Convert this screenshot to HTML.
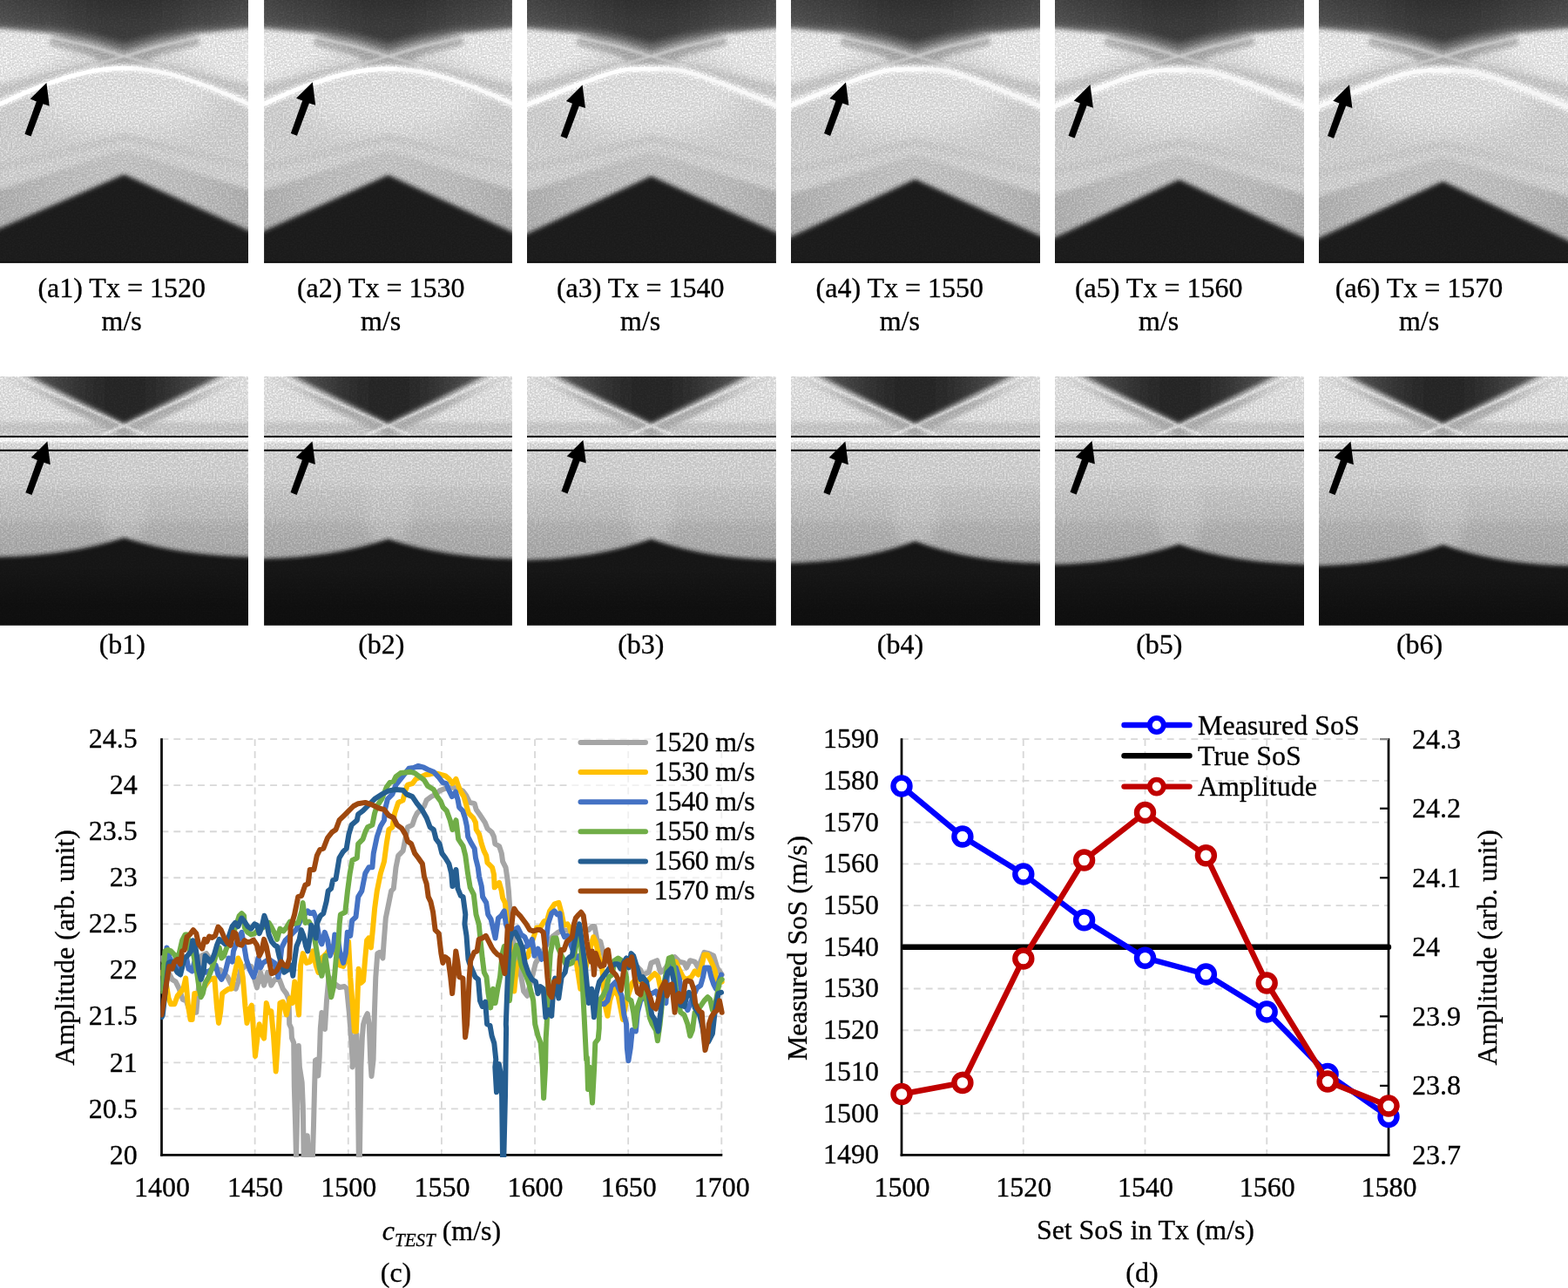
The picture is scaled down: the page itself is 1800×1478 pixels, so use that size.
<!DOCTYPE html>
<html><head><meta charset="utf-8"><title>Figure</title>
<style>html,body{margin:0;padding:0;background:#fff}svg{display:block}text{font-family:'Liberation Serif',serif;font-size:32px;fill:#000;stroke:#000;stroke-width:0.3px}</style>
</head><body>
<svg width="1800" height="1478" viewBox="0 0 1800 1478">
<defs>
<clipPath id="cA0"><rect x="0" y="0" width="285.0" height="301.8"/></clipPath><clipPath id="cB0"><rect x="0" y="0" width="285.0" height="285.8"/></clipPath><clipPath id="cA1"><rect x="0" y="0" width="284.8" height="301.8"/></clipPath><clipPath id="cB1"><rect x="0" y="0" width="284.8" height="285.8"/></clipPath><clipPath id="cA2"><rect x="0" y="0" width="285.9" height="301.8"/></clipPath><clipPath id="cB2"><rect x="0" y="0" width="285.9" height="285.8"/></clipPath><clipPath id="cA3"><rect x="0" y="0" width="286" height="301.8"/></clipPath><clipPath id="cB3"><rect x="0" y="0" width="286" height="285.8"/></clipPath><clipPath id="cA4"><rect x="0" y="0" width="286" height="301.8"/></clipPath><clipPath id="cB4"><rect x="0" y="0" width="286" height="285.8"/></clipPath><clipPath id="cA5"><rect x="0" y="0" width="286" height="301.8"/></clipPath><clipPath id="cB5"><rect x="0" y="0" width="286" height="285.8"/></clipPath>
<filter id="b1" x="-20%" y="-20%" width="140%" height="140%"><feGaussianBlur stdDeviation="0.9"/></filter>
<filter id="b05" x="-20%" y="-20%" width="140%" height="140%"><feGaussianBlur stdDeviation="0.55"/></filter>
<filter id="b07" x="-20%" y="-20%" width="140%" height="140%"><feGaussianBlur stdDeviation="0.7"/></filter>
<filter id="b2" x="-20%" y="-20%" width="140%" height="140%"><feGaussianBlur stdDeviation="2"/></filter>
<filter id="b3" x="-20%" y="-20%" width="140%" height="140%"><feGaussianBlur stdDeviation="2.8"/></filter>
<filter id="b4" x="-20%" y="-20%" width="140%" height="140%"><feGaussianBlur stdDeviation="3.5"/></filter>
<filter id="b8" x="-40%" y="-40%" width="180%" height="180%"><feGaussianBlur stdDeviation="14"/></filter>
<filter id="b5" x="-30%" y="-30%" width="160%" height="160%"><feGaussianBlur stdDeviation="6"/></filter>
<filter id="noise" x="0" y="0" width="100%" height="100%" color-interpolation-filters="sRGB"><feTurbulence type="fractalNoise" baseFrequency="0.55" numOctaves="1" seed="11" result="n"/><feColorMatrix in="n" type="matrix" values="1 0 0 0 0  1 0 0 0 0  1 0 0 0 0  0 0 0 0 1" result="n1"/><feComponentTransfer in="n1" result="n2"><feFuncR type="discrete" tableValues="0.2 0.2 0.2 0.2 0.2 0.2 0.2 0.3 0.42 0.5 0.5 0.62 0.85 1 1 1 1 1 1 1"/><feFuncG type="discrete" tableValues="0.2 0.2 0.2 0.2 0.2 0.2 0.2 0.3 0.42 0.5 0.5 0.62 0.85 1 1 1 1 1 1 1"/><feFuncB type="discrete" tableValues="0.2 0.2 0.2 0.2 0.2 0.2 0.2 0.3 0.42 0.5 0.5 0.62 0.85 1 1 1 1 1 1 1"/></feComponentTransfer><feComposite in="SourceGraphic" in2="n2" operator="arithmetic" k1="0.2" k2="0.9" k3="0" k4="0"/></filter>
<linearGradient id="gChev" x1="0" x2="1" y1="0" y2="0"><stop offset="0" stop-color="#a8a8a8"/><stop offset="0.25" stop-color="#b8b8b8"/><stop offset="0.5" stop-color="#c0c0c0"/><stop offset="0.75" stop-color="#b8b8b8"/><stop offset="1" stop-color="#a8a8a8"/></linearGradient>
<linearGradient id="gTop" x1="0" x2="1" y1="0" y2="0"><stop offset="0" stop-color="#5a5a5a"/><stop offset="0.25" stop-color="#484848"/><stop offset="0.42" stop-color="#3b3b3b"/><stop offset="0.58" stop-color="#3b3b3b"/><stop offset="0.75" stop-color="#484848"/><stop offset="1" stop-color="#5a5a5a"/></linearGradient>
<linearGradient id="gTopV" x1="0" x2="0" y1="0" y2="1"><stop offset="0" stop-color="#000" stop-opacity="0.22"/><stop offset="1" stop-color="#000" stop-opacity="0"/></linearGradient>
<linearGradient id="gTop2" x1="0" x2="1" y1="0" y2="0"><stop offset="0" stop-color="#6c6c6c"/><stop offset="0.12" stop-color="#4a4a4a"/><stop offset="0.3" stop-color="#303030"/><stop offset="0.42" stop-color="#272727"/><stop offset="0.58" stop-color="#272727"/><stop offset="0.7" stop-color="#303030"/><stop offset="0.88" stop-color="#4a4a4a"/><stop offset="1" stop-color="#6c6c6c"/></linearGradient>
<linearGradient id="gGrayV" x1="0" x2="0" y1="0" y2="1"><stop offset="0" stop-color="#c8c8c8" stop-opacity="0.2"/><stop offset="0.5" stop-color="#acacac" stop-opacity="1"/><stop offset="1" stop-color="#a8a8a8" stop-opacity="1"/></linearGradient>
<linearGradient id="gB" x1="0" x2="0" y1="0" y2="1"><stop offset="0" stop-color="#dddddd"/><stop offset="0.18" stop-color="#d8d8d8"/><stop offset="0.3" stop-color="#cfcfcf"/><stop offset="0.43" stop-color="#cacaca"/><stop offset="0.46" stop-color="#c2c2c2"/><stop offset="0.56" stop-color="#b8b8b8"/><stop offset="0.6" stop-color="#adadad"/><stop offset="0.7" stop-color="#a6a6a6"/><stop offset="1" stop-color="#a0a0a0"/></linearGradient>
<linearGradient id="gBot" x1="0" x2="0" y1="0" y2="1"><stop offset="0" stop-color="#000" stop-opacity="0"/><stop offset="0.15" stop-color="#000" stop-opacity="0.3"/><stop offset="1" stop-color="#000" stop-opacity="0.45"/></linearGradient>
</defs>
<rect width="1800" height="1478" fill="#fff"/>
<g transform="translate(0.0,0)" clip-path="url(#cA0)">
<g filter="url(#noise)">
<rect x="-5" y="-5" width="296.0" height="311.8" fill="#cbcbcb"/>
<ellipse cx="142.5" cy="112" rx="105" ry="42" fill="#dbdbdb" filter="url(#b8)"/>
<path fill="#d5d5d5" d="M-8.0,123.3 L-2.0,120.4 L4.0,117.6 L10.0,114.9 L16.0,112.2 L22.0,109.5 L28.0,106.9 L34.0,104.4 L40.0,102.0 L46.0,99.6 L52.0,97.3 L58.0,95.1 L64.0,93.0 L70.0,91.0 L76.0,89.1 L82.0,87.4 L88.0,85.7 L94.0,84.3 L100.0,82.9 L106.0,81.7 L112.0,80.7 L118.0,79.9 L124.0,79.2 L130.0,78.7 L136.0,78.4 L142.0,78.3 L148.0,78.4 L154.0,78.6 L160.0,79.1 L166.0,79.7 L172.0,80.6 L178.0,81.6 L184.0,82.7 L190.0,84.0 L196.0,85.5 L202.0,87.1 L208.0,88.8 L214.0,90.7 L220.0,92.7 L226.0,94.7 L232.0,96.9 L238.0,99.2 L244.0,101.6 L250.0,104.0 L256.0,106.5 L262.0,109.1 L268.0,111.7 L274.0,114.4 L280.0,117.2 L286.0,120.0 L292.0,122.8 L294.0,-5 L-8,-5Z"/>
<g filter="url(#b5)">
<polygon points="-12,30 62,36 84,58 40,82 -12,100" fill="#e2e2e2"/>
<polygon points="298.0,30 224.0,36 202.0,58 246.0,82 298.0,100" fill="#e2e2e2"/>
</g>
<g filter="url(#b2)">
<polygon fill="#c5c5c5" points="-20,191.2 142.5,153.0 306.0,191.2 306.0,200.2 142.5,162.0 -20,200.2"/>
</g>
<g filter="url(#b3)">
<polygon fill="url(#gChev)" points="-20,224.0 142.5,172.0 306.0,224.0 306.0,341.8 -20,341.8"/>
</g>
<g filter="url(#b3)" fill="none" stroke="#c3c3c3" stroke-width="13" stroke-linecap="butt">
<path d="M142.5,67 L296.0,107"/>
<path d="M142.5,67 L-10,107"/>
</g>
<g filter="url(#b3)" fill="none" stroke="#b0b0b0" stroke-width="14" stroke-linecap="butt">
<path d="M58,45 L142.5,67 L172.5,75.5"/>
<path d="M228.0,45 L142.5,67 L112.5,75.5"/>
</g>
<g filter="url(#b3)">
<polygon fill="#a6a6a6" points="62.5,40 222.5,40 164.5,70 120.5,70"/>
</g>
<g filter="url(#b3)">
<polygon fill="#707070" points="-30,-30 316.0,-30 316.0,31.5 286.0,32 222.0,38.5 181.0,47 142.5,58.5 105,47 64,38.5 0,32 -30,31.5"/>
</g>
<g filter="url(#b4)">
<polygon fill="url(#gTop)" points="-30,-30 316.0,-30 316.0,29 286.0,29 222.0,33 181.0,40 142.5,50 105,40 64,33 0,29 -30,29"/>
</g>
<rect x="-5" y="-5" width="296.0" height="36" fill="url(#gTopV)"/>
<g filter="url(#b2)" fill="none"><path d="M-8.0,123.3 L-2.0,120.4 L4.0,117.6 L10.0,114.9 L16.0,112.2 L22.0,109.5 L28.0,106.9 L34.0,104.4 L40.0,102.0 L46.0,99.6 L52.0,97.3 L58.0,95.1 L64.0,93.0 L70.0,91.0 L76.0,89.1 L82.0,87.4 L88.0,85.7 L94.0,84.3 L100.0,82.9 L106.0,81.7 L112.0,80.7 L118.0,79.9 L124.0,79.2 L130.0,78.7 L136.0,78.4 L142.0,78.3 L148.0,78.4 L154.0,78.6 L160.0,79.1 L166.0,79.7 L172.0,80.6 L178.0,81.6 L184.0,82.7 L190.0,84.0 L196.0,85.5 L202.0,87.1 L208.0,88.8 L214.0,90.7 L220.0,92.7 L226.0,94.7 L232.0,96.9 L238.0,99.2 L244.0,101.6 L250.0,104.0 L256.0,106.5 L262.0,109.1 L268.0,111.7 L274.0,114.4 L280.0,117.2 L286.0,120.0 L292.0,122.8" stroke="#f0f0f0" stroke-width="8.0"/></g>
<g filter="url(#b3)">
<polygon fill="#1d1d1d" points="-30,274.8 0,262.0 142.5,200 286.0,265.0 316.0,278.4 316.0,331.8 -30,331.8"/>
</g>
</g>
<g filter="url(#b1)" fill="none" stroke="#dadada" stroke-width="2.6" opacity="0.75">
<path d="M50,41 L105,53.5 L182.5,76"/><path d="M236.0,41 L181.0,53.5 L102.5,76"/>
</g>
<g filter="url(#b05)" fill="none" stroke-linecap="round">
<path d="M-8.0,123.3 L-2.0,120.4 L4.0,117.6 L10.0,114.9 L16.0,112.2 L22.0,109.5 L28.0,106.9 L34.0,104.4 L40.0,102.0 L46.0,99.6 L52.0,97.3 L58.0,95.1 L64.0,93.0 L70.0,91.0 L76.0,89.1 L82.0,87.4 L88.0,85.7 L94.0,84.3 L100.0,82.9 L106.0,81.7 L112.0,80.7 L118.0,79.9 L124.0,79.2 L130.0,78.7 L136.0,78.4 L142.0,78.3 L148.0,78.4 L154.0,78.6" stroke="#ffffff" stroke-width="4.8"/>
<path d="M152.5,78.6 L158.5,79.0 L164.5,79.6 L170.5,80.3 L176.5,81.3 L182.5,82.4 L188.5,83.7 L194.5,85.1 L200.5,86.7 L206.5,88.4 L212.5,90.2 L218.5,92.2 L224.5,94.2 L230.5,96.4 L236.5,98.6 L242.5,101.0 L248.5,103.4 L254.5,105.9 L260.5,108.4 L266.5,111.1 L272.5,113.7 L278.5,116.5 L284.5,119.3 L290.5,122.1" stroke="#fafafa" stroke-width="3.8"/>
</g>
<rect x="0" y="300.2" width="286.0" height="1.6" fill="#0c0c0c"/>
<polygon fill="#000" points="53.4,95.1 56.8,121.7 49.5,119.3 35.5,156.6 28.4,153.8 41.8,116.4 34.7,113.6"/>
</g>
<g transform="translate(303.1,0)" clip-path="url(#cA1)">
<g filter="url(#noise)">
<rect x="-5" y="-5" width="296.0" height="311.8" fill="#cbcbcb"/>
<ellipse cx="142.5" cy="112" rx="105" ry="42" fill="#dbdbdb" filter="url(#b8)"/>
<path fill="#d5d5d5" d="M-8.0,123.0 L-2.0,120.2 L4.0,117.5 L10.0,114.7 L16.0,112.1 L22.0,109.5 L28.0,106.9 L34.0,104.4 L40.0,102.0 L46.0,99.7 L52.0,97.5 L58.0,95.3 L64.0,93.3 L70.0,91.3 L76.0,89.5 L82.0,87.8 L88.0,86.2 L94.0,84.8 L100.0,83.5 L106.0,82.3 L112.0,81.3 L118.0,80.5 L124.0,79.9 L130.0,79.4 L136.0,79.1 L142.0,79.0 L148.0,79.1 L154.0,79.3 L160.0,79.8 L166.0,80.4 L172.0,81.2 L178.0,82.1 L184.0,83.3 L190.0,84.5 L196.0,86.0 L202.0,87.5 L208.0,89.2 L214.0,91.0 L220.0,92.9 L226.0,95.0 L232.0,97.1 L238.0,99.3 L244.0,101.6 L250.0,104.0 L256.0,106.5 L262.0,109.0 L268.0,111.6 L274.0,114.3 L280.0,117.0 L286.0,119.8 L292.0,122.6 L294.0,-5 L-8,-5Z"/>
<g filter="url(#b5)">
<polygon points="-12,30 62,36 84,58 40,82 -12,100" fill="#e2e2e2"/>
<polygon points="298.0,30 224.0,36 202.0,58 246.0,82 298.0,100" fill="#e2e2e2"/>
</g>
<g filter="url(#b2)">
<polygon fill="#c5c5c5" points="-20,191.9 142.5,153.7 306.0,191.9 306.0,200.9 142.5,162.7 -20,200.9"/>
</g>
<g filter="url(#b3)">
<polygon fill="url(#gChev)" points="-20,224.7 142.5,172.7 306.0,224.7 306.0,341.8 -20,341.8"/>
</g>
<g filter="url(#b3)" fill="none" stroke="#c3c3c3" stroke-width="13" stroke-linecap="butt">
<path d="M142.5,67 L296.0,107"/>
<path d="M142.5,67 L-10,107"/>
</g>
<g filter="url(#b3)" fill="none" stroke="#b0b0b0" stroke-width="14" stroke-linecap="butt">
<path d="M58,45 L142.5,67 L172.5,75.5"/>
<path d="M228.0,45 L142.5,67 L112.5,75.5"/>
</g>
<g filter="url(#b3)">
<polygon fill="#a6a6a6" points="62.5,40 222.5,40 164.5,70 120.5,70"/>
</g>
<g filter="url(#b3)">
<polygon fill="#707070" points="-30,-30 316.0,-30 316.0,31.5 286.0,32 222.0,38.5 181.0,47 142.5,58.5 105,47 64,38.5 0,32 -30,31.5"/>
</g>
<g filter="url(#b4)">
<polygon fill="url(#gTop)" points="-30,-30 316.0,-30 316.0,29 286.0,29 222.0,33 181.0,40 142.5,50 105,40 64,33 0,29 -30,29"/>
</g>
<rect x="-5" y="-5" width="296.0" height="36" fill="url(#gTopV)"/>
<g filter="url(#b2)" fill="none"><path d="M-8.0,123.0 L-2.0,120.2 L4.0,117.5 L10.0,114.7 L16.0,112.1 L22.0,109.5 L28.0,106.9 L34.0,104.4 L40.0,102.0 L46.0,99.7 L52.0,97.5 L58.0,95.3 L64.0,93.3 L70.0,91.3 L76.0,89.5 L82.0,87.8 L88.0,86.2 L94.0,84.8 L100.0,83.5 L106.0,82.3 L112.0,81.3 L118.0,80.5 L124.0,79.9 L130.0,79.4 L136.0,79.1 L142.0,79.0 L148.0,79.1 L154.0,79.3 L160.0,79.8 L166.0,80.4 L172.0,81.2 L178.0,82.1 L184.0,83.3 L190.0,84.5 L196.0,86.0 L202.0,87.5 L208.0,89.2 L214.0,91.0 L220.0,92.9 L226.0,95.0 L232.0,97.1 L238.0,99.3 L244.0,101.6 L250.0,104.0 L256.0,106.5 L262.0,109.0 L268.0,111.6 L274.0,114.3 L280.0,117.0 L286.0,119.8 L292.0,122.6" stroke="#f0f0f0" stroke-width="8.2"/></g>
<g filter="url(#b3)">
<polygon fill="#1d1d1d" points="-30,278.3 0,265.0 142.5,200.7 286.0,266.7 316.0,280.3 316.0,331.8 -30,331.8"/>
</g>
</g>
<g filter="url(#b1)" fill="none" stroke="#dadada" stroke-width="2.6" opacity="0.75">
<path d="M50,41 L105,53.5 L182.5,76"/><path d="M236.0,41 L181.0,53.5 L102.5,76"/>
</g>
<g filter="url(#b05)" fill="none" stroke-linecap="round">
<path d="M-8.0,123.0 L-2.0,120.2 L4.0,117.5 L10.0,114.7 L16.0,112.1 L22.0,109.5 L28.0,106.9 L34.0,104.4 L40.0,102.0 L46.0,99.7 L52.0,97.5 L58.0,95.3 L64.0,93.3 L70.0,91.3 L76.0,89.5 L82.0,87.8 L88.0,86.2 L94.0,84.8 L100.0,83.5 L106.0,82.3 L112.0,81.3 L118.0,80.5 L124.0,79.9 L130.0,79.4 L136.0,79.1 L142.0,79.0 L148.0,79.1 L154.0,79.3" stroke="#fefefe" stroke-width="4.8"/>
<path d="M152.5,79.3 L158.5,79.7 L164.5,80.2 L170.5,81.0 L176.5,81.9 L182.5,83.0 L188.5,84.2 L194.5,85.6 L200.5,87.1 L206.5,88.8 L212.5,90.6 L218.5,92.5 L224.5,94.5 L230.5,96.6 L236.5,98.8 L242.5,101.1 L248.5,103.4 L254.5,105.9 L260.5,108.4 L266.5,111.0 L272.5,113.6 L278.5,116.3 L284.5,119.1 L290.5,121.9" stroke="#fafafa" stroke-width="3.8"/>
</g>
<rect x="0" y="300.2" width="286.0" height="1.6" fill="#0c0c0c"/>
<polygon fill="#000" points="55.7,94.2 59.1,120.8 51.8,118.4 37.8,155.7 30.7,152.9 44.1,115.5 37.0,112.7"/>
</g>
<g transform="translate(605.0,0)" clip-path="url(#cA2)">
<g filter="url(#noise)">
<rect x="-5" y="-5" width="296.0" height="311.8" fill="#cbcbcb"/>
<ellipse cx="142.5" cy="112" rx="105" ry="42" fill="#dbdbdb" filter="url(#b8)"/>
<path fill="#d5d5d5" d="M-8.0,123.8 L-2.0,121.3 L4.0,118.9 L10.0,116.4 L16.0,114.0 L22.0,111.6 L28.0,109.1 L34.0,106.7 L40.0,104.4 L46.0,102.0 L52.0,99.6 L58.0,97.3 L64.0,95.0 L70.0,92.8 L76.0,90.6 L82.0,88.5 L88.0,86.5 L94.0,84.6 L100.0,82.9 L106.0,81.4 L112.0,80.3 L118.0,79.5 L124.0,79.2 L130.0,79.2 L136.0,79.2 L142.0,79.2 L148.0,79.2 L154.0,79.2 L160.0,79.2 L166.0,79.4 L172.0,80.1 L178.0,81.2 L184.0,82.6 L190.0,84.3 L196.0,86.2 L202.0,88.2 L208.0,90.3 L214.0,92.4 L220.0,94.7 L226.0,96.9 L232.0,99.3 L238.0,101.6 L244.0,104.0 L250.0,106.3 L256.0,108.7 L262.0,111.2 L268.0,113.6 L274.0,116.0 L280.0,118.5 L286.0,120.9 L292.0,123.4 L294.0,-5 L-8,-5Z"/>
<g filter="url(#b5)">
<polygon points="-12,30 62,36 84,58 40,82 -12,100" fill="#e2e2e2"/>
<polygon points="298.0,30 224.0,36 202.0,58 246.0,82 298.0,100" fill="#e2e2e2"/>
</g>
<g filter="url(#b2)">
<polygon fill="#c5c5c5" points="-20,193.2 142.5,155.0 306.0,193.2 306.0,202.2 142.5,164.0 -20,202.2"/>
</g>
<g filter="url(#b3)">
<polygon fill="url(#gChev)" points="-20,226.0 142.5,174.0 306.0,226.0 306.0,341.8 -20,341.8"/>
</g>
<g filter="url(#b3)" fill="none" stroke="#c3c3c3" stroke-width="13" stroke-linecap="butt">
<path d="M142.5,67 L296.0,107"/>
<path d="M142.5,67 L-10,107"/>
</g>
<g filter="url(#b3)" fill="none" stroke="#b0b0b0" stroke-width="14" stroke-linecap="butt">
<path d="M58,45 L142.5,67 L172.5,75.5"/>
<path d="M228.0,45 L142.5,67 L112.5,75.5"/>
</g>
<g filter="url(#b3)">
<polygon fill="#a6a6a6" points="62.5,40 222.5,40 164.5,70 120.5,70"/>
</g>
<g filter="url(#b3)">
<polygon fill="#707070" points="-30,-30 316.0,-30 316.0,31.5 286.0,32 222.0,38.5 181.0,47 142.5,58.5 105,47 64,38.5 0,32 -30,31.5"/>
</g>
<g filter="url(#b4)">
<polygon fill="url(#gTop)" points="-30,-30 316.0,-30 316.0,29 286.0,29 222.0,33 181.0,40 142.5,50 105,40 64,33 0,29 -30,29"/>
</g>
<rect x="-5" y="-5" width="296.0" height="36" fill="url(#gTopV)"/>
<g filter="url(#b2)" fill="none"><path d="M-8.0,123.8 L-2.0,121.3 L4.0,118.9 L10.0,116.4 L16.0,114.0 L22.0,111.6 L28.0,109.1 L34.0,106.7 L40.0,104.4 L46.0,102.0 L52.0,99.6 L58.0,97.3 L64.0,95.0 L70.0,92.8 L76.0,90.6 L82.0,88.5 L88.0,86.5 L94.0,84.6 L100.0,82.9 L106.0,81.4 L112.0,80.3 L118.0,79.5 L124.0,79.2 L130.0,79.2 L136.0,79.2 L142.0,79.2 L148.0,79.2 L154.0,79.2 L160.0,79.2 L166.0,79.4 L172.0,80.1 L178.0,81.2 L184.0,82.6 L190.0,84.3 L196.0,86.2 L202.0,88.2 L208.0,90.3 L214.0,92.4 L220.0,94.7 L226.0,96.9 L232.0,99.3 L238.0,101.6 L244.0,104.0 L250.0,106.3 L256.0,108.7 L262.0,111.2 L268.0,113.6 L274.0,116.0 L280.0,118.5 L286.0,120.9 L292.0,123.4" stroke="#f0f0f0" stroke-width="8.8"/></g>
<g filter="url(#b3)">
<polygon fill="#1d1d1d" points="-30,282.0 0,268.3 142.5,202 286.0,266.7 316.0,280.0 316.0,331.8 -30,331.8"/>
</g>
</g>
<g filter="url(#b1)" fill="none" stroke="#dadada" stroke-width="2.6" opacity="0.75">
<path d="M50,41 L105,53.5 L182.5,76"/><path d="M236.0,41 L181.0,53.5 L102.5,76"/>
</g>
<g filter="url(#b05)" fill="none" stroke-linecap="round">
<path d="M-8.0,123.8 L-2.0,121.3 L4.0,118.9 L10.0,116.4 L16.0,114.0 L22.0,111.6 L28.0,109.1 L34.0,106.7 L40.0,104.4 L46.0,102.0 L52.0,99.6 L58.0,97.3 L64.0,95.0 L70.0,92.8 L76.0,90.6 L82.0,88.5 L88.0,86.5 L94.0,84.6 L100.0,82.9 L106.0,81.4 L112.0,80.3 L118.0,79.5 L124.0,79.2 L130.0,79.2 L136.0,79.2 L142.0,79.2 L148.0,79.2 L154.0,79.2" stroke="#fdfdfd" stroke-width="4.6"/>
<path d="M152.5,79.2 L158.5,79.2 L164.5,79.3 L170.5,79.9 L176.5,80.9 L182.5,82.3 L188.5,83.9 L194.5,85.7 L200.5,87.7 L206.5,89.7 L212.5,91.9 L218.5,94.1 L224.5,96.4 L230.5,98.7 L236.5,101.0 L242.5,103.4 L248.5,105.7 L254.5,108.1 L260.5,110.6 L266.5,113.0 L272.5,115.4 L278.5,117.8 L284.5,120.3 L290.5,122.7" stroke="#f8f8f8" stroke-width="3.7"/>
</g>
<rect x="0" y="300.2" width="286.0" height="1.6" fill="#0c0c0c"/>
<polygon fill="#000" points="63.6,97.5 67.0,124.1 59.8,121.7 45.8,159.0 38.6,156.2 52.0,118.8 45.0,116.0"/>
</g>
<g transform="translate(908.0,0)" clip-path="url(#cA3)">
<g filter="url(#noise)">
<rect x="-5" y="-5" width="296.0" height="311.8" fill="#cbcbcb"/>
<ellipse cx="142.5" cy="112" rx="105" ry="42" fill="#dbdbdb" filter="url(#b8)"/>
<path fill="#d5d5d5" d="M-8.0,124.3 L-2.0,121.8 L4.0,119.4 L10.0,116.9 L16.0,114.5 L22.0,112.1 L28.0,109.6 L34.0,107.2 L40.0,104.8 L46.0,102.5 L52.0,100.1 L58.0,97.8 L64.0,95.5 L70.0,93.2 L76.0,91.0 L82.0,88.9 L88.0,86.9 L94.0,85.0 L100.0,83.3 L106.0,81.8 L112.0,80.6 L118.0,79.8 L124.0,79.5 L130.0,79.5 L136.0,79.5 L142.0,79.5 L148.0,79.5 L154.0,79.5 L160.0,79.5 L166.0,79.7 L172.0,80.4 L178.0,81.5 L184.0,83.0 L190.0,84.7 L196.0,86.6 L202.0,88.6 L208.0,90.7 L214.0,92.9 L220.0,95.1 L226.0,97.4 L232.0,99.7 L238.0,102.1 L244.0,104.4 L250.0,106.8 L256.0,109.2 L262.0,111.6 L268.0,114.1 L274.0,116.5 L280.0,119.0 L286.0,121.4 L292.0,123.9 L294.0,-5 L-8,-5Z"/>
<g filter="url(#b5)">
<polygon points="-12,30 62,36 84,58 40,82 -12,100" fill="#e2e2e2"/>
<polygon points="298.0,30 224.0,36 202.0,58 246.0,82 298.0,100" fill="#e2e2e2"/>
</g>
<g filter="url(#b2)">
<polygon fill="#c5c5c5" points="-20,196.7 142.5,158.5 306.0,196.7 306.0,205.7 142.5,167.5 -20,205.7"/>
</g>
<g filter="url(#b3)">
<polygon fill="url(#gChev)" points="-20,229.5 142.5,177.5 306.0,229.5 306.0,341.8 -20,341.8"/>
</g>
<g filter="url(#b3)" fill="none" stroke="#c3c3c3" stroke-width="13" stroke-linecap="butt">
<path d="M142.5,67 L296.0,107"/>
<path d="M142.5,67 L-10,107"/>
</g>
<g filter="url(#b3)" fill="none" stroke="#b0b0b0" stroke-width="14" stroke-linecap="butt">
<path d="M58,45 L142.5,67 L172.5,75.5"/>
<path d="M228.0,45 L142.5,67 L112.5,75.5"/>
</g>
<g filter="url(#b3)">
<polygon fill="#a6a6a6" points="62.5,40 222.5,40 164.5,70 120.5,70"/>
</g>
<g filter="url(#b3)">
<polygon fill="#707070" points="-30,-30 316.0,-30 316.0,31.5 286.0,32 222.0,38.5 181.0,47 142.5,58.5 105,47 64,38.5 0,32 -30,31.5"/>
</g>
<g filter="url(#b4)">
<polygon fill="url(#gTop)" points="-30,-30 316.0,-30 316.0,29 286.0,29 222.0,33 181.0,40 142.5,50 105,40 64,33 0,29 -30,29"/>
</g>
<rect x="-5" y="-5" width="296.0" height="36" fill="url(#gTopV)"/>
<g filter="url(#b2)" fill="none"><path d="M-8.0,124.3 L-2.0,121.8 L4.0,119.4 L10.0,116.9 L16.0,114.5 L22.0,112.1 L28.0,109.6 L34.0,107.2 L40.0,104.8 L46.0,102.5 L52.0,100.1 L58.0,97.8 L64.0,95.5 L70.0,93.2 L76.0,91.0 L82.0,88.9 L88.0,86.9 L94.0,85.0 L100.0,83.3 L106.0,81.8 L112.0,80.6 L118.0,79.8 L124.0,79.5 L130.0,79.5 L136.0,79.5 L142.0,79.5 L148.0,79.5 L154.0,79.5 L160.0,79.5 L166.0,79.7 L172.0,80.4 L178.0,81.5 L184.0,83.0 L190.0,84.7 L196.0,86.6 L202.0,88.6 L208.0,90.7 L214.0,92.9 L220.0,95.1 L226.0,97.4 L232.0,99.7 L238.0,102.1 L244.0,104.4 L250.0,106.8 L256.0,109.2 L262.0,111.6 L268.0,114.1 L274.0,116.5 L280.0,119.0 L286.0,121.4 L292.0,123.9" stroke="#f0f0f0" stroke-width="9.2"/></g>
<g filter="url(#b3)">
<polygon fill="#1d1d1d" points="-30,285.4 0,271.7 142.5,205.5 286.0,270.7 316.0,284.1 316.0,331.8 -30,331.8"/>
</g>
</g>
<g filter="url(#b1)" fill="none" stroke="#dadada" stroke-width="2.6" opacity="0.75">
<path d="M50,41 L105,53.5 L182.5,76"/><path d="M236.0,41 L181.0,53.5 L102.5,76"/>
</g>
<g filter="url(#b05)" fill="none" stroke-linecap="round">
<path d="M-8.0,124.3 L-2.0,121.8 L4.0,119.4 L10.0,116.9 L16.0,114.5 L22.0,112.1 L28.0,109.6 L34.0,107.2 L40.0,104.8 L46.0,102.5 L52.0,100.1 L58.0,97.8 L64.0,95.5 L70.0,93.2 L76.0,91.0 L82.0,88.9 L88.0,86.9 L94.0,85.0 L100.0,83.3 L106.0,81.8 L112.0,80.6 L118.0,79.8 L124.0,79.5 L130.0,79.5 L136.0,79.5 L142.0,79.5 L148.0,79.5 L154.0,79.5" stroke="#fcfcfc" stroke-width="4.5"/>
<path d="M152.5,79.5 L158.5,79.5 L164.5,79.6 L170.5,80.2 L176.5,81.2 L182.5,82.6 L188.5,84.2 L194.5,86.1 L200.5,88.1 L206.5,90.2 L212.5,92.3 L218.5,94.5 L224.5,96.8 L230.5,99.1 L236.5,101.5 L242.5,103.8 L248.5,106.2 L254.5,108.6 L260.5,111.0 L266.5,113.5 L272.5,115.9 L278.5,118.3 L284.5,120.8 L290.5,123.3" stroke="#f7f7f7" stroke-width="3.6"/>
</g>
<rect x="0" y="300.2" width="286.0" height="1.6" fill="#0c0c0c"/>
<polygon fill="#000" points="63.0,94.4 66.4,121.0 59.1,118.6 45.1,155.9 38.0,153.1 51.4,115.7 44.3,112.9"/>
</g>
<g transform="translate(1211.0,0)" clip-path="url(#cA4)">
<g filter="url(#noise)">
<rect x="-5" y="-5" width="296.0" height="311.8" fill="#cbcbcb"/>
<ellipse cx="142.5" cy="112" rx="105" ry="42" fill="#dbdbdb" filter="url(#b8)"/>
<path fill="#d5d5d5" d="M-8.0,125.4 L-2.0,122.9 L4.0,120.3 L10.0,117.8 L16.0,115.2 L22.0,112.7 L28.0,110.2 L34.0,107.8 L40.0,105.3 L46.0,102.9 L52.0,100.5 L58.0,98.2 L64.0,96.0 L70.0,93.7 L76.0,91.6 L82.0,89.6 L88.0,87.7 L94.0,85.9 L100.0,84.3 L106.0,83.0 L112.0,81.9 L118.0,81.1 L124.0,80.6 L130.0,80.5 L136.0,80.5 L142.0,80.5 L148.0,80.5 L154.0,80.5 L160.0,80.6 L166.0,81.0 L172.0,81.7 L178.0,82.8 L184.0,84.1 L190.0,85.6 L196.0,87.4 L202.0,89.3 L208.0,91.3 L214.0,93.4 L220.0,95.6 L226.0,97.8 L232.0,100.2 L238.0,102.5 L244.0,104.9 L250.0,107.4 L256.0,109.8 L262.0,112.3 L268.0,114.8 L274.0,117.3 L280.0,119.9 L286.0,122.4 L292.0,125.0 L294.0,-5 L-8,-5Z"/>
<g filter="url(#b5)">
<polygon points="-12,30 62,36 84,58 40,82 -12,100" fill="#e2e2e2"/>
<polygon points="298.0,30 224.0,36 202.0,58 246.0,82 298.0,100" fill="#e2e2e2"/>
</g>
<g filter="url(#b2)">
<polygon fill="#c5c5c5" points="-20,197.2 142.5,159.0 306.0,197.2 306.0,206.2 142.5,168.0 -20,206.2"/>
</g>
<g filter="url(#b3)">
<polygon fill="url(#gChev)" points="-20,230.0 142.5,178.0 306.0,230.0 306.0,341.8 -20,341.8"/>
</g>
<g filter="url(#b3)" fill="none" stroke="#c3c3c3" stroke-width="13" stroke-linecap="butt">
<path d="M142.5,67 L296.0,107"/>
<path d="M142.5,67 L-10,107"/>
</g>
<g filter="url(#b3)" fill="none" stroke="#b0b0b0" stroke-width="14" stroke-linecap="butt">
<path d="M58,45 L142.5,67 L172.5,75.5"/>
<path d="M228.0,45 L142.5,67 L112.5,75.5"/>
</g>
<g filter="url(#b3)">
<polygon fill="#a6a6a6" points="62.5,40 222.5,40 164.5,70 120.5,70"/>
</g>
<g filter="url(#b3)">
<polygon fill="#707070" points="-30,-30 316.0,-30 316.0,31.5 286.0,32 222.0,38.5 181.0,47 142.5,58.5 105,47 64,38.5 0,32 -30,31.5"/>
</g>
<g filter="url(#b4)">
<polygon fill="url(#gTop)" points="-30,-30 316.0,-30 316.0,29 286.0,29 222.0,33 181.0,40 142.5,50 105,40 64,33 0,29 -30,29"/>
</g>
<rect x="-5" y="-5" width="296.0" height="36" fill="url(#gTopV)"/>
<g filter="url(#b2)" fill="none"><path d="M-8.0,125.4 L-2.0,122.9 L4.0,120.3 L10.0,117.8 L16.0,115.2 L22.0,112.7 L28.0,110.2 L34.0,107.8 L40.0,105.3 L46.0,102.9 L52.0,100.5 L58.0,98.2 L64.0,96.0 L70.0,93.7 L76.0,91.6 L82.0,89.6 L88.0,87.7 L94.0,85.9 L100.0,84.3 L106.0,83.0 L112.0,81.9 L118.0,81.1 L124.0,80.6 L130.0,80.5 L136.0,80.5 L142.0,80.5 L148.0,80.5 L154.0,80.5 L160.0,80.6 L166.0,81.0 L172.0,81.7 L178.0,82.8 L184.0,84.1 L190.0,85.6 L196.0,87.4 L202.0,89.3 L208.0,91.3 L214.0,93.4 L220.0,95.6 L226.0,97.8 L232.0,100.2 L238.0,102.5 L244.0,104.9 L250.0,107.4 L256.0,109.8 L262.0,112.3 L268.0,114.8 L274.0,117.3 L280.0,119.9 L286.0,122.4 L292.0,125.0" stroke="#f0f0f0" stroke-width="9.6"/></g>
<g filter="url(#b3)">
<polygon fill="#1d1d1d" points="-30,286.5 0,272.7 142.5,206 286.0,273.3 316.0,287.2 316.0,331.8 -30,331.8"/>
</g>
</g>
<g filter="url(#b1)" fill="none" stroke="#dadada" stroke-width="2.6" opacity="0.75">
<path d="M50,41 L105,53.5 L182.5,76"/><path d="M236.0,41 L181.0,53.5 L102.5,76"/>
</g>
<g filter="url(#b05)" fill="none" stroke-linecap="round">
<path d="M-8.0,125.4 L-2.0,122.9 L4.0,120.3 L10.0,117.8 L16.0,115.2 L22.0,112.7 L28.0,110.2 L34.0,107.8 L40.0,105.3 L46.0,102.9 L52.0,100.5 L58.0,98.2 L64.0,96.0 L70.0,93.7 L76.0,91.6 L82.0,89.6 L88.0,87.7 L94.0,85.9 L100.0,84.3 L106.0,83.0 L112.0,81.9 L118.0,81.1 L124.0,80.6 L130.0,80.5 L136.0,80.5 L142.0,80.5 L148.0,80.5 L154.0,80.5" stroke="#fbfbfb" stroke-width="4.4"/>
<path d="M152.5,80.5 L158.5,80.5 L164.5,80.8 L170.5,81.5 L176.5,82.5 L182.5,83.7 L188.5,85.2 L194.5,86.9 L200.5,88.8 L206.5,90.8 L212.5,92.8 L218.5,95.0 L224.5,97.3 L230.5,99.6 L236.5,101.9 L242.5,104.3 L248.5,106.7 L254.5,109.2 L260.5,111.7 L266.5,114.2 L272.5,116.7 L278.5,119.2 L284.5,121.8 L290.5,124.3" stroke="#f6f6f6" stroke-width="3.6"/>
</g>
<rect x="0" y="300.2" width="286.0" height="1.6" fill="#0c0c0c"/>
<polygon fill="#000" points="40.5,97.1 43.9,123.7 36.6,121.3 22.6,158.6 15.5,155.8 28.9,118.4 21.8,115.6"/>
</g>
<g transform="translate(1514.0,0)" clip-path="url(#cA5)">
<g filter="url(#noise)">
<rect x="-5" y="-5" width="296.0" height="311.8" fill="#cbcbcb"/>
<ellipse cx="142.5" cy="112" rx="105" ry="42" fill="#dbdbdb" filter="url(#b8)"/>
<path fill="#d5d5d5" d="M-8.0,125.9 L-2.0,123.4 L4.0,120.8 L10.0,118.3 L16.0,115.7 L22.0,113.2 L28.0,110.7 L34.0,108.3 L40.0,105.8 L46.0,103.4 L52.0,101.0 L58.0,98.7 L64.0,96.5 L70.0,94.2 L76.0,92.1 L82.0,90.1 L88.0,88.2 L94.0,86.4 L100.0,84.8 L106.0,83.5 L112.0,82.4 L118.0,81.6 L124.0,81.1 L130.0,81.0 L136.0,81.0 L142.0,81.0 L148.0,81.0 L154.0,81.0 L160.0,81.1 L166.0,81.5 L172.0,82.2 L178.0,83.3 L184.0,84.6 L190.0,86.1 L196.0,87.9 L202.0,89.8 L208.0,91.8 L214.0,93.9 L220.0,96.1 L226.0,98.3 L232.0,100.7 L238.0,103.0 L244.0,105.4 L250.0,107.9 L256.0,110.3 L262.0,112.8 L268.0,115.3 L274.0,117.8 L280.0,120.4 L286.0,122.9 L292.0,125.5 L294.0,-5 L-8,-5Z"/>
<g filter="url(#b5)">
<polygon points="-12,30 62,36 84,58 40,82 -12,100" fill="#e2e2e2"/>
<polygon points="298.0,30 224.0,36 202.0,58 246.0,82 298.0,100" fill="#e2e2e2"/>
</g>
<g filter="url(#b2)">
<polygon fill="#c5c5c5" points="-20,199.2 142.5,161.0 306.0,199.2 306.0,208.2 142.5,170.0 -20,208.2"/>
</g>
<g filter="url(#b3)">
<polygon fill="url(#gChev)" points="-20,232.0 142.5,180.0 306.0,232.0 306.0,341.8 -20,341.8"/>
</g>
<g filter="url(#b3)" fill="none" stroke="#c3c3c3" stroke-width="13" stroke-linecap="butt">
<path d="M142.5,67 L296.0,107"/>
<path d="M142.5,67 L-10,107"/>
</g>
<g filter="url(#b3)" fill="none" stroke="#b0b0b0" stroke-width="14" stroke-linecap="butt">
<path d="M58,45 L142.5,67 L172.5,75.5"/>
<path d="M228.0,45 L142.5,67 L112.5,75.5"/>
</g>
<g filter="url(#b3)">
<polygon fill="#a6a6a6" points="62.5,40 222.5,40 164.5,70 120.5,70"/>
</g>
<g filter="url(#b3)">
<polygon fill="#707070" points="-30,-30 316.0,-30 316.0,31.5 286.0,32 222.0,38.5 181.0,47 142.5,58.5 105,47 64,38.5 0,32 -30,31.5"/>
</g>
<g filter="url(#b4)">
<polygon fill="url(#gTop)" points="-30,-30 316.0,-30 316.0,29 286.0,29 222.0,33 181.0,40 142.5,50 105,40 64,33 0,29 -30,29"/>
</g>
<rect x="-5" y="-5" width="296.0" height="36" fill="url(#gTopV)"/>
<g filter="url(#b2)" fill="none"><path d="M-8.0,125.9 L-2.0,123.4 L4.0,120.8 L10.0,118.3 L16.0,115.7 L22.0,113.2 L28.0,110.7 L34.0,108.3 L40.0,105.8 L46.0,103.4 L52.0,101.0 L58.0,98.7 L64.0,96.5 L70.0,94.2 L76.0,92.1 L82.0,90.1 L88.0,88.2 L94.0,86.4 L100.0,84.8 L106.0,83.5 L112.0,82.4 L118.0,81.6 L124.0,81.1 L130.0,81.0 L136.0,81.0 L142.0,81.0 L148.0,81.0 L154.0,81.0 L160.0,81.1 L166.0,81.5 L172.0,82.2 L178.0,83.3 L184.0,84.6 L190.0,86.1 L196.0,87.9 L202.0,89.8 L208.0,91.8 L214.0,93.9 L220.0,96.1 L226.0,98.3 L232.0,100.7 L238.0,103.0 L244.0,105.4 L250.0,107.9 L256.0,110.3 L262.0,112.8 L268.0,115.3 L274.0,117.8 L280.0,120.4 L286.0,122.9 L292.0,125.5" stroke="#f0f0f0" stroke-width="10.0"/></g>
<g filter="url(#b3)">
<polygon fill="#1d1d1d" points="-30,286.8 0,273.3 142.5,208 286.0,276.0 316.0,290.0 316.0,331.8 -30,331.8"/>
</g>
</g>
<g filter="url(#b1)" fill="none" stroke="#dadada" stroke-width="2.6" opacity="0.75">
<path d="M50,41 L105,53.5 L182.5,76"/><path d="M236.0,41 L181.0,53.5 L102.5,76"/>
</g>
<g filter="url(#b05)" fill="none" stroke-linecap="round">
<path d="M-8.0,125.9 L-2.0,123.4 L4.0,120.8 L10.0,118.3 L16.0,115.7 L22.0,113.2 L28.0,110.7 L34.0,108.3 L40.0,105.8 L46.0,103.4 L52.0,101.0 L58.0,98.7 L64.0,96.5 L70.0,94.2 L76.0,92.1 L82.0,90.1 L88.0,88.2 L94.0,86.4 L100.0,84.8 L106.0,83.5 L112.0,82.4 L118.0,81.6 L124.0,81.1 L130.0,81.0 L136.0,81.0 L142.0,81.0 L148.0,81.0 L154.0,81.0" stroke="#fafafa" stroke-width="4.3"/>
<path d="M152.5,81.0 L158.5,81.0 L164.5,81.3 L170.5,82.0 L176.5,83.0 L182.5,84.2 L188.5,85.7 L194.5,87.4 L200.5,89.3 L206.5,91.3 L212.5,93.3 L218.5,95.5 L224.5,97.8 L230.5,100.1 L236.5,102.4 L242.5,104.8 L248.5,107.2 L254.5,109.7 L260.5,112.2 L266.5,114.7 L272.5,117.2 L278.5,119.7 L284.5,122.3 L290.5,124.8" stroke="#f5f5f5" stroke-width="3.5"/>
</g>
<rect x="0" y="300.2" width="286.0" height="1.6" fill="#0c0c0c"/>
<polygon fill="#000" points="35.0,97.3 38.4,123.9 31.1,121.5 17.1,158.8 10.0,156.0 23.4,118.6 16.3,115.8"/>
</g>
<g transform="translate(0.0,432)" clip-path="url(#cB0)">
<g filter="url(#noise)">
<rect x="-5" y="-5" width="296.0" height="295.8" fill="url(#gB)"/>
<rect x="-5" y="53" width="296.0" height="14" fill="#c2c2c2" filter="url(#b2)"/>
<g filter="url(#b3)">
<polygon fill="url(#gGrayV)" points="-6,-4 142.5,70 292.0,-4"/>
</g>
<g filter="url(#b1)" fill="none" stroke="#e0e0e0" stroke-width="3">
<path d="M16,-1 L168.5,68"/><path d="M270.0,-1 L116.5,68"/>
</g>
<g filter="url(#b3)">
<polygon fill="url(#gTop2)" points="25,-4 142.5,53.5 261.0,-4"/>
</g>
<rect x="-5" y="69" width="296.0" height="16" fill="#d4d4d4"/>
<rect x="-5" y="70.5" width="296.0" height="5" fill="#f6f6f6" filter="url(#b1)"/>
<ellipse cx="142.5" cy="148.5" rx="26" ry="46" fill="#d0d0d0" opacity="0.32" filter="url(#b5)"/>
<g filter="url(#b2)">
<path fill="#161616" d="M-30,207.5 L0,207.2 Q80.5,205.5 142.5,185.0 Q204.5,205.5 286.0,207.2 L316.0,207.5 L316.0,315.8 L-30,315.8Z"/>
</g>
<rect x="-5" y="218" width="296.0" height="285.8" fill="url(#gBot)"/>
</g>
<rect x="0" y="68.0" width="286.0" height="2.0" fill="#000"/>
<rect x="0" y="83.8" width="286.0" height="2.0" fill="#000"/>
<polygon fill="#000" points="54.4,74.6 57.8,101.2 50.5,98.8 36.5,136.1 29.4,133.3 42.8,95.9 35.7,93.1"/>
</g>
<g transform="translate(303.1,432)" clip-path="url(#cB1)">
<g filter="url(#noise)">
<rect x="-5" y="-5" width="296.0" height="295.8" fill="url(#gB)"/>
<rect x="-5" y="53" width="296.0" height="14" fill="#c2c2c2" filter="url(#b2)"/>
<g filter="url(#b3)">
<polygon fill="url(#gGrayV)" points="-6,-4 142.5,70 292.0,-4"/>
</g>
<g filter="url(#b1)" fill="none" stroke="#e0e0e0" stroke-width="3">
<path d="M16,-1 L168.5,68"/><path d="M270.0,-1 L116.5,68"/>
</g>
<g filter="url(#b3)">
<polygon fill="url(#gTop2)" points="25,-4 142.5,53.5 261.0,-4"/>
</g>
<rect x="-5" y="69" width="296.0" height="16" fill="#d4d4d4"/>
<rect x="-5" y="70.5" width="296.0" height="5" fill="#f6f6f6" filter="url(#b1)"/>
<ellipse cx="142.5" cy="150" rx="26" ry="46" fill="#d0d0d0" opacity="0.32" filter="url(#b5)"/>
<g filter="url(#b2)">
<path fill="#161616" d="M-30,209.5 L0,209.2 Q80.5,207.5 142.5,186.5 Q204.5,207.5 286.0,209.2 L316.0,209.5 L316.0,315.8 L-30,315.8Z"/>
</g>
<rect x="-5" y="220" width="296.0" height="285.8" fill="url(#gBot)"/>
</g>
<rect x="0" y="68.0" width="286.0" height="2.0" fill="#000"/>
<rect x="0" y="83.8" width="286.0" height="2.0" fill="#000"/>
<polygon fill="#000" points="55.4,74.4 58.8,101.0 51.5,98.6 37.5,135.9 30.4,133.1 43.8,95.7 36.7,92.9"/>
</g>
<g transform="translate(605.0,432)" clip-path="url(#cB2)">
<g filter="url(#noise)">
<rect x="-5" y="-5" width="296.0" height="295.8" fill="url(#gB)"/>
<rect x="-5" y="53" width="296.0" height="14" fill="#c2c2c2" filter="url(#b2)"/>
<g filter="url(#b3)">
<polygon fill="url(#gGrayV)" points="-6,-4 142.5,70 292.0,-4"/>
</g>
<g filter="url(#b1)" fill="none" stroke="#e0e0e0" stroke-width="3">
<path d="M16,-1 L168.5,68"/><path d="M270.0,-1 L116.5,68"/>
</g>
<g filter="url(#b3)">
<polygon fill="url(#gTop2)" points="25,-4 142.5,53.5 261.0,-4"/>
</g>
<rect x="-5" y="69" width="296.0" height="16" fill="#d4d4d4"/>
<rect x="-5" y="70.5" width="296.0" height="5" fill="#f6f6f6" filter="url(#b1)"/>
<ellipse cx="142.5" cy="150" rx="26" ry="46" fill="#d0d0d0" opacity="0.32" filter="url(#b5)"/>
<g filter="url(#b2)">
<path fill="#161616" d="M-30,211.0 L0,210.7 Q80.5,209.0 142.5,186.5 Q204.5,209.0 286.0,210.7 L316.0,211.0 L316.0,315.8 L-30,315.8Z"/>
</g>
<rect x="-5" y="221.5" width="296.0" height="285.8" fill="url(#gBot)"/>
</g>
<rect x="0" y="68.0" width="286.0" height="2.0" fill="#000"/>
<rect x="0" y="83.8" width="286.0" height="2.0" fill="#000"/>
<polygon fill="#000" points="64.4,73.0 67.8,99.6 60.5,97.2 46.5,134.5 39.4,131.7 52.8,94.3 45.7,91.5"/>
</g>
<g transform="translate(908.0,432)" clip-path="url(#cB3)">
<g filter="url(#noise)">
<rect x="-5" y="-5" width="296.0" height="295.8" fill="url(#gB)"/>
<rect x="-5" y="53" width="296.0" height="14" fill="#c2c2c2" filter="url(#b2)"/>
<g filter="url(#b3)">
<polygon fill="url(#gGrayV)" points="-6,-4 142.5,70 292.0,-4"/>
</g>
<g filter="url(#b1)" fill="none" stroke="#e0e0e0" stroke-width="3">
<path d="M16,-1 L168.5,68"/><path d="M270.0,-1 L116.5,68"/>
</g>
<g filter="url(#b3)">
<polygon fill="url(#gTop2)" points="25,-4 142.5,53.5 261.0,-4"/>
</g>
<rect x="-5" y="69" width="296.0" height="16" fill="#d4d4d4"/>
<rect x="-5" y="70.5" width="296.0" height="5" fill="#f6f6f6" filter="url(#b1)"/>
<ellipse cx="142.5" cy="152.5" rx="26" ry="46" fill="#d0d0d0" opacity="0.32" filter="url(#b5)"/>
<g filter="url(#b2)">
<path fill="#161616" d="M-30,214.5 L0,214.2 Q80.5,212.5 142.5,189.0 Q204.5,212.5 286.0,214.2 L316.0,214.5 L316.0,315.8 L-30,315.8Z"/>
</g>
<rect x="-5" y="225" width="296.0" height="285.8" fill="url(#gBot)"/>
</g>
<rect x="0" y="68.0" width="286.0" height="2.0" fill="#000"/>
<rect x="0" y="83.8" width="286.0" height="2.0" fill="#000"/>
<polygon fill="#000" points="62.4,74.6 65.8,101.2 58.5,98.8 44.5,136.1 37.4,133.3 50.8,95.9 43.7,93.1"/>
</g>
<g transform="translate(1211.0,432)" clip-path="url(#cB4)">
<g filter="url(#noise)">
<rect x="-5" y="-5" width="296.0" height="295.8" fill="url(#gB)"/>
<rect x="-5" y="53" width="296.0" height="14" fill="#c2c2c2" filter="url(#b2)"/>
<g filter="url(#b3)">
<polygon fill="url(#gGrayV)" points="-6,-4 142.5,70 292.0,-4"/>
</g>
<g filter="url(#b1)" fill="none" stroke="#e0e0e0" stroke-width="3">
<path d="M16,-1 L168.5,68"/><path d="M270.0,-1 L116.5,68"/>
</g>
<g filter="url(#b3)">
<polygon fill="url(#gTop2)" points="25,-4 142.5,53.5 261.0,-4"/>
</g>
<rect x="-5" y="69" width="296.0" height="16" fill="#d4d4d4"/>
<rect x="-5" y="70.5" width="296.0" height="5" fill="#f6f6f6" filter="url(#b1)"/>
<ellipse cx="142.5" cy="156" rx="26" ry="46" fill="#d0d0d0" opacity="0.32" filter="url(#b5)"/>
<g filter="url(#b2)">
<path fill="#161616" d="M-30,216.0 L0,215.7 Q80.5,214.0 142.5,192.5 Q204.5,214.0 286.0,215.7 L316.0,216.0 L316.0,315.8 L-30,315.8Z"/>
</g>
<rect x="-5" y="226.5" width="296.0" height="285.8" fill="url(#gBot)"/>
</g>
<rect x="0" y="68.0" width="286.0" height="2.0" fill="#000"/>
<rect x="0" y="83.8" width="286.0" height="2.0" fill="#000"/>
<polygon fill="#000" points="42.5,74.0 45.9,100.6 38.6,98.2 24.6,135.5 17.5,132.7 30.9,95.3 23.8,92.5"/>
</g>
<g transform="translate(1514.0,432)" clip-path="url(#cB5)">
<g filter="url(#noise)">
<rect x="-5" y="-5" width="296.0" height="295.8" fill="url(#gB)"/>
<rect x="-5" y="53" width="296.0" height="14" fill="#c2c2c2" filter="url(#b2)"/>
<g filter="url(#b3)">
<polygon fill="url(#gGrayV)" points="-6,-4 142.5,70 292.0,-4"/>
</g>
<g filter="url(#b1)" fill="none" stroke="#e0e0e0" stroke-width="3">
<path d="M16,-1 L168.5,68"/><path d="M270.0,-1 L116.5,68"/>
</g>
<g filter="url(#b3)">
<polygon fill="url(#gTop2)" points="25,-4 142.5,53.5 261.0,-4"/>
</g>
<rect x="-5" y="69" width="296.0" height="16" fill="#d4d4d4"/>
<rect x="-5" y="70.5" width="296.0" height="5" fill="#f6f6f6" filter="url(#b1)"/>
<ellipse cx="142.5" cy="156.5" rx="26" ry="46" fill="#d0d0d0" opacity="0.32" filter="url(#b5)"/>
<g filter="url(#b2)">
<path fill="#161616" d="M-30,217.5 L0,217.2 Q80.5,215.5 142.5,193.0 Q204.5,215.5 286.0,217.2 L316.0,217.5 L316.0,315.8 L-30,315.8Z"/>
</g>
<rect x="-5" y="228" width="296.0" height="285.8" fill="url(#gBot)"/>
</g>
<rect x="0" y="68.0" width="286.0" height="2.0" fill="#000"/>
<rect x="0" y="83.8" width="286.0" height="2.0" fill="#000"/>
<polygon fill="#000" points="36.5,74.6 39.9,101.2 32.6,98.8 18.6,136.1 11.5,133.3 24.9,95.9 17.8,93.1"/>
</g>
<text x="139.7" y="341.1" text-anchor="middle">(a1) Tx = 1520</text>
<text x="139.7" y="378.6" text-anchor="middle">m/s</text>
<text x="140.29999999999998" y="750.2" text-anchor="middle">(b1)</text>
<text x="437.2" y="341.1" text-anchor="middle">(a2) Tx = 1530</text>
<text x="437.2" y="378.6" text-anchor="middle">m/s</text>
<text x="437.8" y="750.2" text-anchor="middle">(b2)</text>
<text x="735.2" y="341.1" text-anchor="middle">(a3) Tx = 1540</text>
<text x="735.2" y="378.6" text-anchor="middle">m/s</text>
<text x="735.8000000000001" y="750.2" text-anchor="middle">(b3)</text>
<text x="1032.8" y="341.1" text-anchor="middle">(a4) Tx = 1550</text>
<text x="1032.8" y="378.6" text-anchor="middle">m/s</text>
<text x="1033.3999999999999" y="750.2" text-anchor="middle">(b4)</text>
<text x="1330.2" y="341.1" text-anchor="middle">(a5) Tx = 1560</text>
<text x="1330.2" y="378.6" text-anchor="middle">m/s</text>
<text x="1330.8" y="750.2" text-anchor="middle">(b5)</text>
<text x="1629.0" y="341.1" text-anchor="middle">(a6) Tx = 1570</text>
<text x="1629.0" y="378.6" text-anchor="middle">m/s</text>
<text x="1629.6" y="750.2" text-anchor="middle">(b6)</text>
<clipPath id="cC"><rect x="184.5" y="843.2" width="647.8" height="484.80000000000007"/></clipPath>
<path d="M185.5,848.20H828.3" stroke="#d8d8d8" stroke-width="1.8" stroke-dasharray="7.9 5.95" fill="none"/>
<path d="M185.5,901.22H828.3" stroke="#d8d8d8" stroke-width="1.8" stroke-dasharray="7.9 5.95" fill="none"/>
<path d="M185.5,954.24H828.3" stroke="#d8d8d8" stroke-width="1.8" stroke-dasharray="7.9 5.95" fill="none"/>
<path d="M185.5,1007.27H828.3" stroke="#d8d8d8" stroke-width="1.8" stroke-dasharray="7.9 5.95" fill="none"/>
<path d="M185.5,1060.29H828.3" stroke="#d8d8d8" stroke-width="1.8" stroke-dasharray="7.9 5.95" fill="none"/>
<path d="M185.5,1113.31H828.3" stroke="#d8d8d8" stroke-width="1.8" stroke-dasharray="7.9 5.95" fill="none"/>
<path d="M185.5,1166.33H828.3" stroke="#d8d8d8" stroke-width="1.8" stroke-dasharray="7.9 5.95" fill="none"/>
<path d="M185.5,1219.36H828.3" stroke="#d8d8d8" stroke-width="1.8" stroke-dasharray="7.9 5.95" fill="none"/>
<path d="M185.5,1272.38H828.3" stroke="#d8d8d8" stroke-width="1.8" stroke-dasharray="7.9 5.95" fill="none"/>
<path d="M292.63,848.2V1325.4" stroke="#d8d8d8" stroke-width="1.8" stroke-dasharray="7.9 5.95" fill="none"/>
<path d="M399.77,848.2V1325.4" stroke="#d8d8d8" stroke-width="1.8" stroke-dasharray="7.9 5.95" fill="none"/>
<path d="M506.90,848.2V1325.4" stroke="#d8d8d8" stroke-width="1.8" stroke-dasharray="7.9 5.95" fill="none"/>
<path d="M614.03,848.2V1325.4" stroke="#d8d8d8" stroke-width="1.8" stroke-dasharray="7.9 5.95" fill="none"/>
<path d="M721.17,848.2V1325.4" stroke="#d8d8d8" stroke-width="1.8" stroke-dasharray="7.9 5.95" fill="none"/>
<path d="M828.30,848.2V1325.4" stroke="#d8d8d8" stroke-width="1.8" stroke-dasharray="7.9 5.95" fill="none"/>
<path d="M185.5,847.2V1326.7" stroke="#000" stroke-width="2.7" fill="none"/>
<path d="M184.2,1325.4H829.3" stroke="#000" stroke-width="2.7" fill="none"/>
<g clip-path="url(#cC)" fill="none" stroke-width="6" stroke-linejoin="round" stroke-linecap="round">
<path d="M185.4,1099.5 L189.5,1105.0 L193.5,1115.8 L197.6,1123.9 L201.7,1126.6 L205.7,1134.7 L209.8,1146.9 L213.8,1148.3 L216.5,1156.4 L220.6,1161.8 L225.3,1161.8 L226.7,1145.5 L228.7,1126.6 L231.4,1096.8 L236.8,1094.1 L239.5,1098.2 L245.0,1110.4 L253.1,1113.1 L255.8,1115.8 L261.2,1121.2 L266.6,1132.0 L270.7,1134.7 L273.4,1126.6 L276.1,1113.1 L282.8,1107.7 L288.3,1109.0 L292.3,1123.9 L295.0,1133.4 L299.1,1115.8 L303.1,1130.7 L307.2,1115.8 L311.3,1130.7 L315.3,1123.9 L320.7,1123.9 L324.8,1134.7 L328.8,1140.1 L331.6,1146.9 L332.2,1175.3 L334.4,1180.0 L335.0,1191.1 L337.2,1196.7 L337.8,1246.7 L339.1,1291.1 L340.0,1328.9 L340.9,1291.1 L342.2,1224.4 L342.8,1200.0 L343.9,1224.4 L346.7,1242.2 L347.8,1268.9 L348.7,1328.9 L351.1,1328.9 L352.8,1303.3 L354.4,1328.9 L358.9,1328.9 L360.0,1291.1 L361.1,1246.7 L362.0,1216.7 L364.4,1215.6 L365.3,1234.4 L366.7,1213.3 L367.8,1180.0 L369.4,1162.0 L373.0,1181.0 L375.0,1148.0 L377.5,1121.0 L383.0,1128.0 L389.7,1133.0 L395.4,1132.0 L398.1,1134.7 L400.8,1161.8 L402.9,1188.8 L404.9,1222.7 L404.4,1224.4 L407.8,1191.1 L409.4,1186.7 L410.6,1224.4 L411.8,1328.9 L412.9,1328.9 L414.4,1224.4 L415.8,1191.1 L417.1,1175.3 L419.1,1168.6 L421.8,1163.1 L423.8,1175.3 L425.2,1215.9 L426.5,1234.9 L428.6,1215.9 L429.9,1161.8 L431.3,1121.2 L433.3,1094.1 L436.0,1092.8 L439.4,1099.5 L440.7,1080.6 L442.8,1053.5 L446.4,1035.9 L449.1,1022.4 L451.8,1019.7 L454.5,995.3 L457.2,981.8 L462.6,976.4 L465.3,962.8 L468.0,949.3 L473.4,946.6 L476.1,938.5 L478.8,933.1 L487.0,925.0 L489.7,918.2 L495.1,914.1 L500.5,911.4 L504.6,907.4 L511.3,904.7 L519.4,903.6 L524.9,904.7 L531.1,907.4 L535.2,912.8 L539.2,920.9 L544.7,922.2 L546.7,929.0 L551.4,935.8 L556.8,943.9 L559.5,950.7 L564.3,954.7 L567.0,960.1 L568.3,968.3 L573.1,971.0 L575.8,979.1 L577.1,988.6 L580.5,995.3 L582.5,1008.8 L583.9,1022.4 L585.3,1042.7 L585.9,1060.0 L587.6,1067.1 L591.6,1094.1 L598.4,1121.2 L601.1,1137.4 L605.2,1142.8 L605.4,1141.5 L610.8,1121.2 L614.9,1105.0 L620.3,1096.8 L627.1,1084.7 L633.8,1075.2 L640.6,1069.8 L647.4,1067.1 L654.1,1068.4 L660.9,1067.1 L667.7,1065.7 L675.8,1067.1 L679.8,1063.0 L682.5,1063.0 L685.3,1077.9 L689.3,1080.6 L692.0,1091.4 L694.7,1100.9 L702.8,1105.0 L715.0,1107.7 L729.9,1107.7 L735.3,1113.1 L738.0,1118.5 L744.8,1115.8 L747.5,1105.0 L754.3,1102.2 L758.3,1115.8 L762.4,1113.1 L769.1,1103.6 L774.6,1098.2 L780.0,1103.6 L785.4,1105.0 L788.1,1110.4 L792.2,1102.2 L797.6,1103.6 L801.6,1110.4 L808.4,1092.8 L813.8,1094.1 L819.2,1096.8 L823.3,1110.4 L828.7,1118.5" stroke="#a5a5a5"/>
<path d="M185.4,1115.8 L189.5,1121.2 L193.5,1145.5 L196.2,1152.3 L200.3,1152.3 L203.7,1142.8 L207.1,1138.8 L210.4,1134.7 L213.2,1122.5 L215.9,1153.7 L218.6,1169.9 L220.6,1169.9 L223.3,1140.1 L226.7,1140.1 L231.4,1137.4 L236.8,1129.3 L240.9,1123.9 L246.3,1122.5 L249.0,1156.4 L251.0,1174.0 L253.1,1161.8 L255.1,1140.1 L258.5,1137.4 L262.5,1134.7 L265.9,1134.7 L269.3,1117.1 L273.4,1099.5 L276.1,1105.0 L278.8,1121.2 L281.5,1155.0 L283.5,1174.0 L286.9,1157.7 L288.9,1153.7 L291.0,1182.1 L293.0,1211.9 L295.7,1188.8 L297.7,1175.3 L300.4,1186.1 L303.1,1191.6 L305.8,1151.0 L308.6,1161.8 L311.3,1160.4 L314.0,1188.8 L316.7,1229.4 L319.4,1188.8 L321.4,1151.0 L324.8,1149.6 L328.8,1164.5 L332.9,1145.5 L335.6,1151.0 L338.3,1126.6 L341.0,1148.3 L343.1,1164.5 L345.1,1107.7 L347.8,1094.1 L351.9,1105.0 L355.9,1103.6 L359.3,1091.4 L362.7,1107.7 L365.4,1115.8 L369.4,1099.5 L374.9,1094.1 L380.3,1086.0 L385.7,1094.1 L390.0,1107.7 L394.1,1109.0 L398.1,1098.2 L400.1,1080.6 L402.2,1121.2 L404.9,1155.0 L406.9,1183.4 L408.9,1183.4 L410.3,1148.3 L411.7,1111.7 L414.4,1128.0 L417.1,1125.3 L419.1,1100.9 L421.1,1079.2 L423.2,1076.5 L425.9,1087.4 L427.9,1067.1 L430.1,1042.7 L432.8,1022.4 L436.9,1002.1 L441.0,988.6 L443.7,968.3 L446.4,952.0 L450.4,949.3 L453.1,933.1 L457.2,920.9 L462.6,918.2 L465.3,907.4 L468.0,900.6 L473.4,899.2 L477.5,893.8 L482.9,891.8 L488.3,889.1 L493.7,888.4 L499.1,887.1 L504.6,888.4 L511.3,890.4 L515.4,893.8 L519.4,899.2 L523.5,893.8 L525.7,900.6 L528.4,907.4 L532.5,914.1 L535.2,923.6 L537.9,933.1 L543.3,938.5 L546.0,943.9 L546.7,952.0 L550.1,957.4 L552.8,968.3 L555.5,976.4 L558.2,981.8 L559.5,989.9 L565.0,995.3 L567.0,1003.4 L567.7,1018.3 L573.1,1012.9 L575.8,1022.4 L577.1,1030.5 L579.8,1035.9 L581.2,1049.4 L582.5,1060.0 L584.9,1073.8 L587.6,1107.7 L590.3,1137.4 L593.0,1107.7 L598.4,1099.5 L606.5,1096.8 L605.4,1098.2 L610.8,1080.6 L616.2,1064.4 L620.3,1064.4 L624.4,1057.6 L628.4,1054.9 L631.1,1045.4 L636.7,1037.3 L641.4,1035.9 L644.7,1048.1 L647.4,1061.7 L651.4,1060.3 L654.1,1064.4 L658.2,1080.6 L662.2,1107.7 L666.3,1134.7 L670.4,1121.2 L675.8,1094.1 L681.2,1075.2 L683.9,1080.6 L688.0,1099.5 L690.7,1105.0 L694.7,1153.7 L697.4,1165.8 L700.1,1148.3 L704.2,1134.7 L709.6,1142.8 L715.0,1169.9 L719.1,1148.3 L725.8,1128.0 L732.6,1121.2 L735.3,1126.6 L740.7,1128.0 L747.5,1121.2 L751.6,1117.1 L755.6,1121.2 L758.3,1134.7 L762.4,1126.6 L769.1,1110.4 L775.9,1103.6 L780.0,1113.1 L784.0,1121.2 L788.1,1123.9 L793.5,1121.2 L797.6,1114.4 L801.6,1118.5 L805.7,1107.7 L808.4,1095.5 L812.4,1095.5 L816.5,1103.6 L820.6,1113.1 L823.3,1128.0 L828.7,1126.6" stroke="#ffc000"/>
<path d="M185.7,1134.7 L188.1,1121.2 L191.5,1087.4 L194.9,1099.5 L200.3,1107.7 L207.1,1110.4 L213.8,1098.2 L216.5,1111.7 L220.6,1114.4 L223.3,1103.6 L228.7,1110.4 L236.8,1115.8 L242.2,1113.1 L247.7,1107.7 L250.4,1118.5 L254.4,1123.9 L258.5,1115.8 L262.5,1099.5 L266.6,1103.6 L268.0,1091.4 L272.0,1080.6 L277.4,1069.8 L280.1,1084.7 L282.8,1100.9 L286.9,1113.1 L291.0,1121.2 L293.7,1113.1 L296.4,1099.5 L299.1,1110.4 L301.8,1105.0 L308.6,1100.9 L315.3,1105.0 L319.4,1121.2 L323.4,1087.4 L327.5,1079.2 L332.9,1073.8 L339.7,1067.1 L346.4,1053.5 L353.2,1045.4 L355.9,1048.1 L360.0,1046.8 L362.7,1053.5 L366.7,1077.9 L369.4,1083.3 L372.8,1069.8 L376.2,1079.2 L378.9,1096.8 L383.0,1086.0 L384.3,1072.5 L388.4,1080.6 L390.0,1091.4 L394.1,1105.0 L396.8,1094.1 L398.8,1069.8 L402.2,1073.8 L404.2,1056.2 L408.5,1052.2 L411.2,1029.1 L415.3,1022.4 L419.3,1002.1 L423.4,995.3 L427.4,995.3 L428.8,979.1 L432.8,960.1 L436.9,948.0 L441.0,941.2 L442.3,927.7 L445.0,916.8 L450.4,911.4 L454.5,900.6 L459.9,893.8 L465.3,887.1 L469.4,881.7 L474.8,881.0 L480.2,878.9 L485.6,880.3 L491.0,883.0 L497.8,885.7 L504.1,892.5 L508.1,897.9 L512.2,899.2 L514.9,906.0 L518.9,914.1 L523.0,908.7 L525.7,918.2 L527.1,926.3 L531.1,930.4 L533.8,938.5 L535.9,948.0 L537.2,960.1 L540.6,966.9 L544.7,973.7 L546.0,984.5 L548.7,995.3 L550.1,1006.1 L552.8,1017.0 L554.1,1029.1 L558.2,1035.9 L560.2,1049.4 L563.6,1054.9 L568.6,1076.5 L572.0,1053.5 L575.4,1050.8 L578.8,1045.4 L580.8,1060.3 L586.2,1073.8 L590.3,1067.1 L594.3,1064.4 L598.4,1072.5 L602.4,1075.2 L606.5,1084.7 L604.1,1086.0 L608.1,1083.3 L610.8,1077.9 L613.5,1096.8 L617.6,1088.7 L621.7,1100.9 L625.7,1091.4 L629.1,1060.3 L633.2,1048.1 L636.5,1045.4 L639.9,1049.5 L642.6,1048.1 L644.7,1067.1 L648.0,1075.2 L651.4,1073.8 L655.5,1084.7 L660.9,1099.5 L665.0,1096.8 L670.4,1121.2 L675.8,1142.8 L683.9,1151.0 L693.4,1152.3 L697.4,1148.3 L701.5,1132.0 L706.9,1126.6 L713.7,1142.8 L716.4,1164.5 L719.1,1175.3 L719.8,1202.4 L721.4,1217.3 L723.8,1202.4 L725.8,1182.1 L729.9,1183.4 L731.9,1161.8 L735.3,1148.3 L742.1,1140.1 L748.8,1140.1 L752.9,1137.4 L755.6,1142.8 L759.7,1148.3 L764.4,1151.0 L766.4,1110.4 L770.5,1107.7 L775.9,1110.4 L780.0,1123.9 L782.7,1142.8 L786.7,1153.7 L789.4,1159.1 L794.9,1145.5 L800.3,1133.4 L804.3,1130.7 L807.0,1121.2 L809.1,1110.4 L813.8,1110.4 L816.5,1121.2 L819.2,1129.3 L821.9,1134.7 L824.6,1128.0 L828.0,1118.5" stroke="#4472c4"/>
<path d="M185.7,1137.4 L186.8,1121.2 L189.5,1091.4 L192.9,1090.1 L196.2,1091.4 L200.3,1095.5 L202.3,1099.5 L205.7,1094.1 L209.1,1079.2 L212.5,1072.5 L215.2,1072.5 L218.6,1094.1 L221.9,1094.1 L226.0,1115.8 L228.7,1134.7 L230.7,1144.2 L232.8,1140.1 L235.5,1128.0 L239.5,1121.2 L243.6,1110.4 L247.7,1096.8 L251.7,1087.4 L254.4,1099.5 L257.1,1096.8 L259.8,1088.7 L263.9,1080.6 L269.3,1067.1 L274.7,1050.8 L277.4,1048.1 L280.1,1050.8 L280.8,1064.4 L284.2,1069.8 L288.3,1072.5 L292.3,1071.1 L296.4,1067.1 L301.8,1064.4 L308.6,1058.9 L311.9,1064.4 L315.3,1071.1 L318.0,1077.9 L321.4,1065.7 L325.5,1068.4 L328.8,1064.4 L332.9,1057.6 L335.6,1060.3 L342.4,1058.9 L346.4,1045.4 L347.6,1035.9 L350.5,1058.9 L354.6,1057.6 L358.6,1064.4 L361.3,1077.9 L364.0,1094.1 L366.7,1110.4 L369.4,1119.8 L372.2,1105.0 L373.5,1096.8 L376.2,1115.8 L378.9,1134.7 L380.3,1144.2 L383.0,1132.0 L385.7,1100.9 L388.4,1083.3 L389.7,1060.3 L390.9,1049.4 L396.3,1046.7 L399.0,1022.4 L401.7,1002.1 L404.4,987.2 L409.8,984.5 L411.2,968.3 L416.6,962.8 L419.3,954.7 L422.0,949.3 L427.4,946.6 L430.1,933.1 L432.8,925.0 L438.3,916.8 L443.7,903.3 L447.7,897.9 L451.8,896.5 L454.5,891.1 L459.9,887.1 L465.3,886.4 L470.7,885.7 L476.1,887.1 L481.6,891.1 L487.0,895.2 L491.0,901.9 L497.8,906.0 L501.9,914.1 L505.9,919.5 L508.6,926.3 L512.7,930.4 L516.7,941.2 L519.4,952.0 L523.5,941.2 L526.2,962.8 L531.6,971.0 L534.3,981.8 L537.0,1002.1 L539.7,1018.3 L543.8,1026.4 L546.5,1049.4 L549.7,1060.3 L551.7,1080.6 L553.7,1099.5 L555.8,1115.8 L558.5,1121.2 L560.5,1140.1 L563.2,1156.4 L565.9,1134.7 L568.6,1151.0 L571.3,1134.7 L574.0,1121.2 L576.7,1094.1 L578.8,1086.0 L580.8,1094.1 L583.5,1121.2 L584.9,1148.3 L587.6,1121.2 L590.3,1094.1 L593.0,1084.7 L595.7,1094.1 L598.4,1107.7 L602.4,1115.8 L606.5,1126.6 L608.1,1132.0 L612.2,1148.3 L614.2,1175.3 L617.6,1188.8 L620.6,1196.7 L622.8,1224.4 L624.1,1260.0 L626.1,1224.4 L626.7,1191.1 L627.7,1175.3 L629.1,1134.7 L631.8,1094.1 L635.2,1076.5 L638.6,1076.5 L640.6,1087.4 L644.7,1096.8 L650.1,1107.7 L656.8,1105.0 L659.5,1094.1 L662.2,1080.6 L665.0,1069.8 L667.0,1080.6 L668.3,1121.2 L670.4,1161.8 L673.1,1215.9 L673.9,1213.3 L675.0,1250.0 L676.7,1224.4 L680.0,1265.6 L682.2,1224.4 L683.3,1196.7 L686.7,1192.2 L687.8,1180.0 L688.0,1148.3 L692.0,1142.8 L696.1,1134.7 L698.8,1121.2 L702.8,1118.5 L705.5,1102.2 L709.6,1099.5 L713.7,1102.2 L716.4,1110.4 L719.1,1121.2 L720.4,1145.5 L724.5,1148.3 L727.2,1161.8 L729.2,1178.0 L731.9,1155.0 L735.3,1145.5 L739.4,1137.4 L742.1,1148.3 L746.1,1168.6 L748.8,1175.3 L752.9,1182.1 L754.9,1194.3 L757.6,1175.3 L760.4,1148.3 L763.7,1121.2 L767.8,1099.5 L771.2,1098.2 L773.2,1107.7 L775.9,1134.7 L778.6,1151.0 L781.3,1161.8 L785.4,1164.5 L789.4,1175.3 L792.2,1188.8 L794.9,1182.1 L797.6,1161.8 L803.0,1156.4 L808.4,1148.3 L812.4,1144.2 L815.2,1146.9 L817.9,1159.1 L821.9,1148.3 L826.0,1126.6 L828.7,1123.9" stroke="#70ad47"/>
<path d="M185.7,1167.2 L186.8,1164.5 L190.1,1134.7 L193.5,1105.0 L196.2,1103.6 L200.3,1110.4 L203.7,1115.8 L207.1,1118.5 L209.1,1110.4 L211.8,1099.5 L215.2,1096.8 L219.2,1091.4 L221.3,1079.2 L223.3,1080.6 L226.0,1096.8 L228.0,1113.1 L230.7,1123.9 L233.5,1115.8 L235.5,1096.8 L238.2,1099.5 L240.9,1103.6 L243.6,1100.9 L246.3,1094.1 L249.0,1084.7 L251.7,1077.9 L255.1,1080.6 L258.5,1083.3 L262.5,1075.2 L266.6,1063.0 L270.0,1058.9 L273.4,1063.0 L277.4,1053.5 L280.8,1057.6 L284.2,1063.0 L288.3,1065.7 L292.3,1060.3 L295.0,1061.7 L297.7,1071.1 L300.4,1064.4 L303.4,1050.8 L305.8,1057.6 L308.6,1072.5 L311.9,1080.6 L315.3,1084.7 L318.0,1086.0 L320.7,1098.2 L323.4,1105.0 L326.1,1115.8 L330.2,1113.1 L334.3,1107.7 L336.3,1119.8 L338.3,1100.9 L340.4,1086.0 L343.7,1077.9 L345.8,1067.1 L348.5,1073.8 L351.2,1086.0 L353.2,1091.4 L355.9,1075.2 L357.3,1061.7 L360.0,1067.1 L362.7,1076.5 L364.0,1064.4 L363.8,1060.0 L367.9,1050.8 L371.3,1048.1 L374.7,1034.6 L376.7,1022.4 L380.1,1019.7 L382.1,1010.2 L385.5,1008.8 L389.5,984.5 L393.6,977.7 L397.7,973.7 L400.4,957.4 L403.7,946.6 L409.8,941.2 L411.2,934.4 L416.6,930.4 L422.0,925.0 L430.1,916.8 L438.3,911.4 L446.4,907.4 L454.5,906.0 L462.6,906.7 L466.7,911.4 L473.4,914.1 L478.8,922.2 L484.3,929.0 L489.7,938.5 L493.7,949.3 L497.8,952.0 L500.5,962.8 L504.6,968.3 L507.3,979.1 L511.3,984.5 L515.4,991.3 L518.1,1002.1 L519.4,1017.0 L523.5,998.0 L525.5,1019.7 L528.9,1027.8 L531.6,1029.1 L534.3,1049.4 L533.4,1060.3 L535.5,1073.8 L537.5,1100.9 L538.8,1105.0 L542.2,1113.1 L545.6,1121.2 L549.0,1123.9 L551.0,1148.3 L553.7,1155.0 L557.1,1149.6 L559.1,1175.3 L562.5,1176.7 L564.6,1188.8 L567.3,1197.0 L569.3,1215.9 L568.3,1224.4 L570.0,1253.3 L572.8,1221.1 L574.4,1230.0 L576.1,1257.8 L577.0,1328.9 L578.3,1328.9 L580.0,1257.8 L580.6,1213.3 L581.1,1180.0 L580.8,1175.3 L582.8,1121.2 L584.9,1080.6 L587.6,1071.1 L591.6,1069.8 L595.7,1077.9 L599.7,1087.4 L602.7,1105.0 L606.8,1117.1 L610.8,1123.9 L614.9,1126.6 L617.6,1140.1 L620.3,1132.0 L623.7,1134.7 L626.4,1167.2 L629.8,1159.1 L633.2,1165.8 L635.9,1126.6 L637.2,1122.5 L641.3,1145.5 L644.7,1121.2 L648.7,1115.8 L651.4,1100.9 L654.1,1098.2 L656.8,1096.8 L660.9,1073.8 L665.0,1060.3 L667.7,1077.9 L671.7,1107.7 L675.8,1151.0 L679.2,1134.7 L681.9,1167.2 L684.6,1140.1 L688.0,1126.6 L692.0,1121.2 L696.1,1115.8 L700.1,1110.4 L705.5,1106.3 L709.6,1106.3 L712.3,1111.7 L716.4,1103.6 L719.1,1099.5 L721.8,1110.4 L724.5,1094.1 L727.2,1096.8 L731.3,1110.4 L735.3,1123.9 L738.0,1121.2 L742.1,1126.6 L744.8,1142.8 L748.2,1164.5 L751.6,1169.9 L755.6,1183.4 L758.3,1161.8 L761.0,1134.7 L766.4,1115.8 L770.5,1111.7 L773.2,1123.9 L775.9,1142.8 L781.3,1153.7 L785.4,1155.0 L788.1,1144.2 L790.8,1138.8 L794.9,1145.5 L797.6,1156.4 L803.0,1164.5 L805.7,1175.3 L808.4,1188.8 L813.1,1195.6 L817.9,1186.1 L820.6,1161.8 L824.6,1140.1 L828.0,1138.8" stroke="#255e91"/>
<path d="M185.4,1164.5 L188.1,1148.3 L192.2,1121.2 L194.2,1109.0 L197.6,1111.7 L200.3,1103.6 L203.7,1100.9 L207.1,1106.3 L209.1,1091.4 L211.8,1090.1 L214.5,1075.2 L217.9,1072.5 L221.9,1067.1 L225.3,1071.1 L228.0,1083.3 L232.1,1088.7 L234.8,1077.9 L237.5,1080.6 L240.2,1074.5 L243.6,1075.9 L247.0,1073.8 L250.4,1063.7 L253.7,1067.1 L257.1,1075.2 L261.2,1081.9 L264.6,1084.7 L268.0,1069.8 L270.7,1071.1 L273.4,1083.3 L277.4,1084.7 L280.8,1079.2 L284.2,1081.3 L287.6,1080.6 L291.0,1078.6 L295.0,1084.7 L297.7,1096.8 L300.4,1091.4 L303.1,1077.9 L305.8,1086.0 L308.6,1100.9 L311.9,1117.1 L315.3,1115.8 L318.0,1113.1 L322.8,1103.6 L326.1,1107.7 L329.5,1109.0 L332.2,1099.5 L333.6,1064.4 L338.1,1049.4 L342.2,1029.1 L346.2,1027.8 L350.3,1015.6 L353.7,1014.3 L355.7,998.0 L360.4,998.0 L363.8,981.8 L367.2,975.0 L371.3,973.7 L376.0,961.5 L381.4,954.7 L385.5,952.0 L389.5,941.2 L395.0,935.8 L400.4,930.4 L405.8,925.0 L411.2,922.2 L419.3,920.9 L427.4,923.6 L435.5,927.7 L441.0,929.0 L446.4,935.8 L451.8,938.5 L455.8,946.6 L461.3,950.7 L465.3,957.4 L468.0,965.5 L472.1,968.3 L476.1,979.1 L480.2,984.5 L484.9,991.3 L487.0,1006.1 L489.7,1014.3 L491.7,1029.1 L494.4,1034.6 L497.1,1046.7 L499.6,1067.1 L503.7,1071.1 L506.4,1094.1 L508.4,1105.0 L511.1,1098.2 L514.5,1100.9 L517.2,1121.2 L519.2,1140.1 L521.9,1107.7 L523.3,1091.4 L525.3,1103.6 L527.3,1121.2 L531.4,1122.5 L532.8,1161.8 L534.1,1190.2 L536.1,1175.3 L538.8,1121.2 L540.2,1102.2 L544.3,1092.8 L547.6,1091.4 L549.7,1077.9 L553.7,1076.5 L557.8,1073.8 L561.2,1080.6 L564.6,1087.4 L567.3,1091.4 L571.3,1095.5 L574.7,1096.8 L577.4,1107.7 L579.4,1117.1 L581.5,1087.4 L582.8,1063.0 L586.9,1065.7 L588.9,1048.1 L590.3,1042.7 L593.0,1046.8 L597.0,1050.8 L604.1,1060.3 L608.1,1067.1 L612.2,1068.4 L616.2,1067.1 L620.3,1067.1 L623.7,1069.8 L626.4,1094.1 L628.4,1121.2 L630.4,1140.1 L633.2,1144.2 L635.9,1126.6 L638.6,1125.3 L641.3,1126.6 L642.6,1100.9 L644.0,1090.1 L647.4,1090.1 L650.7,1080.6 L654.1,1077.9 L656.8,1075.2 L658.9,1060.3 L660.9,1053.5 L664.3,1049.5 L667.0,1046.8 L669.7,1050.8 L671.7,1064.4 L673.7,1080.6 L675.8,1094.1 L678.5,1103.6 L679.8,1091.4 L681.9,1118.5 L683.9,1094.1 L686.6,1102.2 L689.3,1109.0 L693.4,1107.7 L696.1,1091.4 L698.1,1090.1 L700.1,1105.0 L702.8,1114.4 L706.9,1118.5 L711.0,1126.6 L713.0,1136.1 L715.0,1121.2 L717.1,1105.0 L720.4,1102.2 L723.1,1107.7 L725.2,1098.2 L727.2,1110.4 L729.2,1126.6 L731.9,1138.8 L735.3,1141.5 L737.3,1129.3 L740.7,1132.0 L743.4,1137.4 L746.8,1145.5 L749.5,1155.0 L752.9,1157.7 L755.6,1148.3 L758.3,1136.1 L761.7,1129.3 L763.7,1126.6 L765.8,1142.8 L768.5,1130.7 L771.2,1129.3 L773.2,1148.3 L774.6,1161.8 L776.6,1142.8 L779.3,1140.1 L781.3,1149.6 L784.0,1145.5 L786.7,1126.6 L789.4,1125.3 L793.5,1126.6 L796.2,1134.7 L798.2,1151.0 L800.3,1156.4 L803.0,1160.4 L805.7,1161.8 L807.7,1188.8 L809.5,1205.1 L811.8,1195.6 L813.8,1175.3 L816.5,1167.2 L819.9,1161.8 L823.3,1159.1 L826.0,1148.3 L828.7,1161.8" stroke="#9e480e"/>
</g>
<text x="157.8" y="858.3" text-anchor="end">24.5</text>
<text x="157.8" y="911.3" text-anchor="end">24</text>
<text x="157.8" y="964.3" text-anchor="end">23.5</text>
<text x="157.8" y="1017.4" text-anchor="end">23</text>
<text x="157.8" y="1070.4" text-anchor="end">22.5</text>
<text x="157.8" y="1123.4" text-anchor="end">22</text>
<text x="157.8" y="1176.4" text-anchor="end">21.5</text>
<text x="157.8" y="1229.5" text-anchor="end">21</text>
<text x="157.8" y="1282.5" text-anchor="end">20.5</text>
<text x="157.8" y="1335.5" text-anchor="end">20</text>
<text x="186.0" y="1372.6" text-anchor="middle">1400</text>
<text x="293.1" y="1372.6" text-anchor="middle">1450</text>
<text x="400.3" y="1372.6" text-anchor="middle">1500</text>
<text x="507.4" y="1372.6" text-anchor="middle">1550</text>
<text x="614.5" y="1372.6" text-anchor="middle">1600</text>
<text x="721.7" y="1372.6" text-anchor="middle">1650</text>
<text x="828.8" y="1372.6" text-anchor="middle">1700</text>
<text transform="translate(84.7,1087.5) rotate(-90)" text-anchor="middle" textLength="270.6">Amplitude (arb. unit)</text>
<text x="507" y="1422.5" text-anchor="middle"><tspan font-style="italic">c</tspan><tspan font-style="italic" font-size="21" dy="7">TEST</tspan><tspan dy="-7"> (m/s)</tspan></text>
<text x="454.5" y="1470.5" text-anchor="middle">(c)</text>
<rect x="654" y="836" width="222" height="206" fill="#fff" opacity="0.62"/>
<path d="M666.5,852.0H741" stroke="#a5a5a5" stroke-width="6" stroke-linecap="round" fill="none"/>
<text x="750.8" y="861.7" textLength="116">1520 m/s</text>
<path d="M666.5,886.1H741" stroke="#ffc000" stroke-width="6" stroke-linecap="round" fill="none"/>
<text x="750.8" y="895.8" textLength="116">1530 m/s</text>
<path d="M666.5,920.2H741" stroke="#4472c4" stroke-width="6" stroke-linecap="round" fill="none"/>
<text x="750.8" y="929.9" textLength="116">1540 m/s</text>
<path d="M666.5,954.3H741" stroke="#70ad47" stroke-width="6" stroke-linecap="round" fill="none"/>
<text x="750.8" y="964.0" textLength="116">1550 m/s</text>
<path d="M666.5,988.4H741" stroke="#255e91" stroke-width="6" stroke-linecap="round" fill="none"/>
<text x="750.8" y="998.1" textLength="116">1560 m/s</text>
<path d="M666.5,1022.5H741" stroke="#9e480e" stroke-width="6" stroke-linecap="round" fill="none"/>
<text x="750.8" y="1032.2" textLength="116">1570 m/s</text>
<path d="M1035.0,848.20H1594.0" stroke="#d8d8d8" stroke-width="1.8" stroke-dasharray="7.9 5.95" fill="none"/>
<path d="M1035.0,895.92H1594.0" stroke="#d8d8d8" stroke-width="1.8" stroke-dasharray="7.9 5.95" fill="none"/>
<path d="M1035.0,943.64H1594.0" stroke="#d8d8d8" stroke-width="1.8" stroke-dasharray="7.9 5.95" fill="none"/>
<path d="M1035.0,991.36H1594.0" stroke="#d8d8d8" stroke-width="1.8" stroke-dasharray="7.9 5.95" fill="none"/>
<path d="M1035.0,1039.08H1594.0" stroke="#d8d8d8" stroke-width="1.8" stroke-dasharray="7.9 5.95" fill="none"/>
<path d="M1035.0,1086.80H1594.0" stroke="#d8d8d8" stroke-width="1.8" stroke-dasharray="7.9 5.95" fill="none"/>
<path d="M1035.0,1134.52H1594.0" stroke="#d8d8d8" stroke-width="1.8" stroke-dasharray="7.9 5.95" fill="none"/>
<path d="M1035.0,1182.24H1594.0" stroke="#d8d8d8" stroke-width="1.8" stroke-dasharray="7.9 5.95" fill="none"/>
<path d="M1035.0,1229.96H1594.0" stroke="#d8d8d8" stroke-width="1.8" stroke-dasharray="7.9 5.95" fill="none"/>
<path d="M1035.0,1277.68H1594.0" stroke="#d8d8d8" stroke-width="1.8" stroke-dasharray="7.9 5.95" fill="none"/>
<path d="M1174.75,848.2V1325.4" stroke="#d8d8d8" stroke-width="1.8" stroke-dasharray="7.9 5.95" fill="none"/>
<path d="M1314.50,848.2V1325.4" stroke="#d8d8d8" stroke-width="1.8" stroke-dasharray="7.9 5.95" fill="none"/>
<path d="M1454.25,848.2V1325.4" stroke="#d8d8d8" stroke-width="1.8" stroke-dasharray="7.9 5.95" fill="none"/>
<path d="M1035.0,847.2V1326.7" stroke="#000" stroke-width="2.7" fill="none"/>
<path d="M1033.7,1325.4H1595.3" stroke="#000" stroke-width="2.7" fill="none"/>
<path d="M1594.0,847.2V1326.7" stroke="#000" stroke-width="2.7" fill="none"/>
<path d="M1584.0,848.20H1594.0" stroke="#808080" stroke-width="2.2"/>
<path d="M1584.0,927.73H1594.0" stroke="#000" stroke-width="2.2"/>
<path d="M1584.0,1007.27H1594.0" stroke="#000" stroke-width="2.2"/>
<path d="M1584.0,1086.80H1594.0" stroke="#000" stroke-width="2.2"/>
<path d="M1584.0,1166.33H1594.0" stroke="#000" stroke-width="2.2"/>
<path d="M1584.0,1245.87H1594.0" stroke="#000" stroke-width="2.2"/>
<path d="M1584.0,1325.40H1594.0" stroke="#000" stroke-width="2.2"/>
<path d="M1037.2,1086.8H1594.0" stroke="#000" stroke-width="6.4" stroke-linecap="round"/>
<path d="M1035.0,902.0 L1104.9,960.0 L1174.8,1003.0 L1244.6,1055.7 L1314.5,1099.2 L1384.4,1118.0 L1454.2,1161.0 L1524.1,1232.5 L1594.0,1281.5" stroke="#0000ff" stroke-width="6.4" fill="none" stroke-linejoin="round" stroke-linecap="round"/>
<circle cx="1035.0" cy="902.0" r="9.5" fill="#fff" stroke="#0000ff" stroke-width="6.4"/>
<circle cx="1104.9" cy="960.0" r="9.5" fill="#fff" stroke="#0000ff" stroke-width="6.4"/>
<circle cx="1174.8" cy="1003.0" r="9.5" fill="#fff" stroke="#0000ff" stroke-width="6.4"/>
<circle cx="1244.6" cy="1055.7" r="9.5" fill="#fff" stroke="#0000ff" stroke-width="6.4"/>
<circle cx="1314.5" cy="1099.2" r="9.5" fill="#fff" stroke="#0000ff" stroke-width="6.4"/>
<circle cx="1384.4" cy="1118.0" r="9.5" fill="#fff" stroke="#0000ff" stroke-width="6.4"/>
<circle cx="1454.2" cy="1161.0" r="9.5" fill="#fff" stroke="#0000ff" stroke-width="6.4"/>
<circle cx="1524.1" cy="1232.5" r="9.5" fill="#fff" stroke="#0000ff" stroke-width="6.4"/>
<circle cx="1594.0" cy="1281.5" r="9.5" fill="#fff" stroke="#0000ff" stroke-width="6.4"/>
<path d="M1035.0,1255.5 L1104.9,1242.5 L1174.8,1100.0 L1244.6,987.0 L1314.5,932.5 L1384.4,981.7 L1454.2,1128.0 L1524.1,1241.0 L1594.0,1269.0" stroke="#c00000" stroke-width="6.4" fill="none" stroke-linejoin="round" stroke-linecap="round"/>
<circle cx="1035.0" cy="1255.5" r="9.5" fill="#fff" stroke="#c00000" stroke-width="6.4"/>
<circle cx="1104.9" cy="1242.5" r="9.5" fill="#fff" stroke="#c00000" stroke-width="6.4"/>
<circle cx="1174.8" cy="1100.0" r="9.5" fill="#fff" stroke="#c00000" stroke-width="6.4"/>
<circle cx="1244.6" cy="987.0" r="9.5" fill="#fff" stroke="#c00000" stroke-width="6.4"/>
<circle cx="1314.5" cy="932.5" r="9.5" fill="#fff" stroke="#c00000" stroke-width="6.4"/>
<circle cx="1384.4" cy="981.7" r="9.5" fill="#fff" stroke="#c00000" stroke-width="6.4"/>
<circle cx="1454.2" cy="1128.0" r="9.5" fill="#fff" stroke="#c00000" stroke-width="6.4"/>
<circle cx="1524.1" cy="1241.0" r="9.5" fill="#fff" stroke="#c00000" stroke-width="6.4"/>
<circle cx="1594.0" cy="1269.0" r="9.5" fill="#fff" stroke="#c00000" stroke-width="6.4"/>
<text x="1009" y="858.1" text-anchor="end">1590</text>
<text x="1009" y="905.8" text-anchor="end">1580</text>
<text x="1009" y="953.5" text-anchor="end">1570</text>
<text x="1009" y="1001.3" text-anchor="end">1560</text>
<text x="1009" y="1049.0" text-anchor="end">1550</text>
<text x="1009" y="1096.7" text-anchor="end">1540</text>
<text x="1009" y="1144.4" text-anchor="end">1530</text>
<text x="1009" y="1192.1" text-anchor="end">1520</text>
<text x="1009" y="1239.9" text-anchor="end">1510</text>
<text x="1009" y="1287.6" text-anchor="end">1500</text>
<text x="1009" y="1335.3" text-anchor="end">1490</text>
<text x="1621" y="858.6">24.3</text>
<text x="1621" y="938.1">24.2</text>
<text x="1621" y="1017.7">24.1</text>
<text x="1621" y="1097.2">24</text>
<text x="1621" y="1176.7">23.9</text>
<text x="1621" y="1256.3">23.8</text>
<text x="1621" y="1335.8">23.7</text>
<text x="1035.5" y="1372.6" text-anchor="middle">1500</text>
<text x="1175.2" y="1372.6" text-anchor="middle">1520</text>
<text x="1315.0" y="1372.6" text-anchor="middle">1540</text>
<text x="1454.8" y="1372.6" text-anchor="middle">1560</text>
<text x="1594.5" y="1372.6" text-anchor="middle">1580</text>
<text transform="translate(926,1088) rotate(-90)" text-anchor="middle" textLength="258.2">Measured SoS (m/s)</text>
<text transform="translate(1717.5,1087.3) rotate(-90)" text-anchor="middle" textLength="270.6">Amplitude (arb. unit)</text>
<text x="1315" y="1422" text-anchor="middle" textLength="249.8">Set SoS in Tx (m/s)</text>
<text x="1311" y="1470.5" text-anchor="middle">(d)</text>
<path d="M1290.5,832.0H1365.5" stroke="#0000ff" stroke-width="6.4" stroke-linecap="round"/>
<circle cx="1327.8" cy="832.0" r="8" fill="#fff" stroke="#0000ff" stroke-width="5.8"/>
<text x="1375" y="842.5">Measured SoS</text>
<path d="M1290.5,867.3H1365.5" stroke="#000" stroke-width="6.4" stroke-linecap="round"/>
<text x="1375" y="877.8">True SoS</text>
<path d="M1290.5,902.6H1365.5" stroke="#c00000" stroke-width="6.4" stroke-linecap="round"/>
<circle cx="1327.8" cy="902.6" r="8" fill="#fff" stroke="#c00000" stroke-width="5.8"/>
<text x="1375" y="913.1">Amplitude</text>
</svg>
</body></html>
